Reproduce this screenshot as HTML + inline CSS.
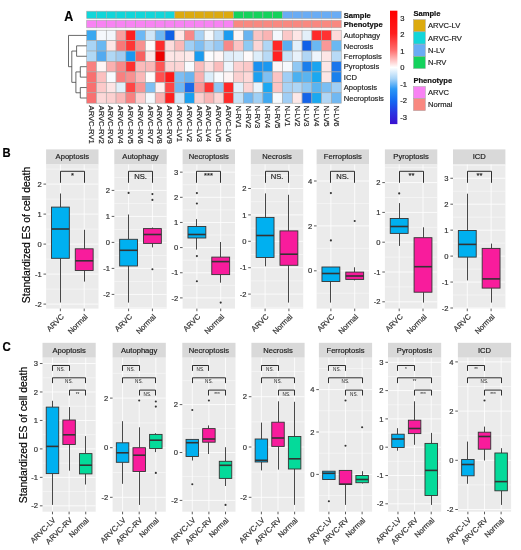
<!DOCTYPE html>
<html><head><meta charset="utf-8"><title>Figure</title>
<style>html,body{margin:0;padding:0;background:#fff;width:521px;height:550px;overflow:hidden}
svg{display:block}text{font-family:"Liberation Sans", Arial, sans-serif}</style></head>
<body><svg width="521" height="550" viewBox="0 0 521 550">
<rect width="521" height="550" fill="#fff"/>
<g stroke="#A8A8A8" stroke-width="0.6">
<rect x="86.7" y="11.2" width="9.79" height="7.4" fill="#12D6D9"/>
<rect x="86.7" y="20.2" width="9.79" height="7.6" fill="#F882F3"/>
<rect x="86.7" y="30.2" width="9.79" height="10.43" fill="#3AA8F0"/>
<rect x="86.7" y="40.63" width="9.79" height="10.43" fill="#A8D4F5"/>
<rect x="86.7" y="51.06" width="9.79" height="10.43" fill="#B0D8F5"/>
<rect x="86.7" y="61.49" width="9.79" height="10.43" fill="#F88080"/>
<rect x="86.7" y="71.92" width="9.79" height="10.43" fill="#F87070"/>
<rect x="86.7" y="82.35" width="9.79" height="10.43" fill="#F87070"/>
<rect x="86.7" y="92.78" width="9.79" height="10.43" fill="#F87070"/>
<rect x="96.49" y="11.2" width="9.79" height="7.4" fill="#12D6D9"/>
<rect x="96.49" y="20.2" width="9.79" height="7.6" fill="#F882F3"/>
<rect x="96.49" y="30.2" width="9.79" height="10.43" fill="#F5F8FC"/>
<rect x="96.49" y="40.63" width="9.79" height="10.43" fill="#6AB8F2"/>
<rect x="96.49" y="51.06" width="9.79" height="10.43" fill="#52AAF0"/>
<rect x="96.49" y="61.49" width="9.79" height="10.43" fill="#FFF5F5"/>
<rect x="96.49" y="71.92" width="9.79" height="10.43" fill="#FBC0C0"/>
<rect x="96.49" y="82.35" width="9.79" height="10.43" fill="#FCCACA"/>
<rect x="96.49" y="92.78" width="9.79" height="10.43" fill="#FCD8D8"/>
<rect x="106.28" y="11.2" width="9.79" height="7.4" fill="#12D6D9"/>
<rect x="106.28" y="20.2" width="9.79" height="7.6" fill="#F882F3"/>
<rect x="106.28" y="30.2" width="9.79" height="10.43" fill="#F2F6FB"/>
<rect x="106.28" y="40.63" width="9.79" height="10.43" fill="#FDE6E6"/>
<rect x="106.28" y="51.06" width="9.79" height="10.43" fill="#B0D8F5"/>
<rect x="106.28" y="61.49" width="9.79" height="10.43" fill="#FAB0B0"/>
<rect x="106.28" y="71.92" width="9.79" height="10.43" fill="#F8FBFE"/>
<rect x="106.28" y="82.35" width="9.79" height="10.43" fill="#FDE4E4"/>
<rect x="106.28" y="92.78" width="9.79" height="10.43" fill="#FCD0D0"/>
<rect x="116.07" y="11.2" width="9.79" height="7.4" fill="#12D6D9"/>
<rect x="116.07" y="20.2" width="9.79" height="7.6" fill="#F882F3"/>
<rect x="116.07" y="30.2" width="9.79" height="10.43" fill="#F9A0A0"/>
<rect x="116.07" y="40.63" width="9.79" height="10.43" fill="#F87878"/>
<rect x="116.07" y="51.06" width="9.79" height="10.43" fill="#A0CCF0"/>
<rect x="116.07" y="61.49" width="9.79" height="10.43" fill="#F88888"/>
<rect x="116.07" y="71.92" width="9.79" height="10.43" fill="#F88080"/>
<rect x="116.07" y="82.35" width="9.79" height="10.43" fill="#E0F0FA"/>
<rect x="116.07" y="92.78" width="9.79" height="10.43" fill="#FAB8B8"/>
<rect x="125.86" y="11.2" width="9.79" height="7.4" fill="#12D6D9"/>
<rect x="125.86" y="20.2" width="9.79" height="7.6" fill="#F882F3"/>
<rect x="125.86" y="30.2" width="9.79" height="10.43" fill="#FF2020"/>
<rect x="125.86" y="40.63" width="9.79" height="10.43" fill="#FF3535"/>
<rect x="125.86" y="51.06" width="9.79" height="10.43" fill="#1A98F0"/>
<rect x="125.86" y="61.49" width="9.79" height="10.43" fill="#FF3030"/>
<rect x="125.86" y="71.92" width="9.79" height="10.43" fill="#F89090"/>
<rect x="125.86" y="82.35" width="9.79" height="10.43" fill="#FF4545"/>
<rect x="125.86" y="92.78" width="9.79" height="10.43" fill="#F88080"/>
<rect x="135.65" y="11.2" width="9.79" height="7.4" fill="#12D6D9"/>
<rect x="135.65" y="20.2" width="9.79" height="7.6" fill="#F882F3"/>
<rect x="135.65" y="30.2" width="9.79" height="10.43" fill="#6CB8F5"/>
<rect x="135.65" y="40.63" width="9.79" height="10.43" fill="#F89090"/>
<rect x="135.65" y="51.06" width="9.79" height="10.43" fill="#F86060"/>
<rect x="135.65" y="61.49" width="9.79" height="10.43" fill="#FBBABA"/>
<rect x="135.65" y="71.92" width="9.79" height="10.43" fill="#FBB8B8"/>
<rect x="135.65" y="82.35" width="9.79" height="10.43" fill="#F89494"/>
<rect x="135.65" y="92.78" width="9.79" height="10.43" fill="#FCCECE"/>
<rect x="145.44" y="11.2" width="9.79" height="7.4" fill="#12D6D9"/>
<rect x="145.44" y="20.2" width="9.79" height="7.6" fill="#F882F3"/>
<rect x="145.44" y="30.2" width="9.79" height="10.43" fill="#CFE6F8"/>
<rect x="145.44" y="40.63" width="9.79" height="10.43" fill="#FFFAFA"/>
<rect x="145.44" y="51.06" width="9.79" height="10.43" fill="#FDE8E8"/>
<rect x="145.44" y="61.49" width="9.79" height="10.43" fill="#FAB8B8"/>
<rect x="145.44" y="71.92" width="9.79" height="10.43" fill="#FFFCFC"/>
<rect x="145.44" y="82.35" width="9.79" height="10.43" fill="#80C0F2"/>
<rect x="145.44" y="92.78" width="9.79" height="10.43" fill="#F5F9FD"/>
<rect x="155.23" y="11.2" width="9.79" height="7.4" fill="#12D6D9"/>
<rect x="155.23" y="20.2" width="9.79" height="7.6" fill="#F882F3"/>
<rect x="155.23" y="30.2" width="9.79" height="10.43" fill="#70B8F2"/>
<rect x="155.23" y="40.63" width="9.79" height="10.43" fill="#FF2A2A"/>
<rect x="155.23" y="51.06" width="9.79" height="10.43" fill="#EE0000"/>
<rect x="155.23" y="61.49" width="9.79" height="10.43" fill="#FF5555"/>
<rect x="155.23" y="71.92" width="9.79" height="10.43" fill="#FF5050"/>
<rect x="155.23" y="82.35" width="9.79" height="10.43" fill="#FFF0F0"/>
<rect x="155.23" y="92.78" width="9.79" height="10.43" fill="#FAB0B0"/>
<rect x="165.02" y="11.2" width="9.79" height="7.4" fill="#12D6D9"/>
<rect x="165.02" y="20.2" width="9.79" height="7.6" fill="#F882F3"/>
<rect x="165.02" y="30.2" width="9.79" height="10.43" fill="#0F5FE6"/>
<rect x="165.02" y="40.63" width="9.79" height="10.43" fill="#FDDCDC"/>
<rect x="165.02" y="51.06" width="9.79" height="10.43" fill="#FDE6E6"/>
<rect x="165.02" y="61.49" width="9.79" height="10.43" fill="#FCD4D4"/>
<rect x="165.02" y="71.92" width="9.79" height="10.43" fill="#FF1A1A"/>
<rect x="165.02" y="82.35" width="9.79" height="10.43" fill="#FF4545"/>
<rect x="165.02" y="92.78" width="9.79" height="10.43" fill="#FF2020"/>
<rect x="174.81" y="11.2" width="9.79" height="7.4" fill="#DCAA0E"/>
<rect x="174.81" y="20.2" width="9.79" height="7.6" fill="#F882F3"/>
<rect x="174.81" y="30.2" width="9.79" height="10.43" fill="#FEE8E8"/>
<rect x="174.81" y="40.63" width="9.79" height="10.43" fill="#FAB8B8"/>
<rect x="174.81" y="51.06" width="9.79" height="10.43" fill="#FDE3E3"/>
<rect x="174.81" y="61.49" width="9.79" height="10.43" fill="#FCD4D4"/>
<rect x="174.81" y="71.92" width="9.79" height="10.43" fill="#7DBDF2"/>
<rect x="174.81" y="82.35" width="9.79" height="10.43" fill="#70B8F2"/>
<rect x="174.81" y="92.78" width="9.79" height="10.43" fill="#D0E6F8"/>
<rect x="184.6" y="11.2" width="9.79" height="7.4" fill="#DCAA0E"/>
<rect x="184.6" y="20.2" width="9.79" height="7.6" fill="#F882F3"/>
<rect x="184.6" y="30.2" width="9.79" height="10.43" fill="#F88888"/>
<rect x="184.6" y="40.63" width="9.79" height="10.43" fill="#A0CFF5"/>
<rect x="184.6" y="51.06" width="9.79" height="10.43" fill="#FDEAEA"/>
<rect x="184.6" y="61.49" width="9.79" height="10.43" fill="#F8FBFE"/>
<rect x="184.6" y="71.92" width="9.79" height="10.43" fill="#6AB4F0"/>
<rect x="184.6" y="82.35" width="9.79" height="10.43" fill="#1A6AE8"/>
<rect x="184.6" y="92.78" width="9.79" height="10.43" fill="#1AA0F0"/>
<rect x="194.39" y="11.2" width="9.79" height="7.4" fill="#DCAA0E"/>
<rect x="194.39" y="20.2" width="9.79" height="7.6" fill="#F882F3"/>
<rect x="194.39" y="30.2" width="9.79" height="10.43" fill="#A8D2F5"/>
<rect x="194.39" y="40.63" width="9.79" height="10.43" fill="#7EBEF3"/>
<rect x="194.39" y="51.06" width="9.79" height="10.43" fill="#1A9CF0"/>
<rect x="194.39" y="61.49" width="9.79" height="10.43" fill="#FBBCBC"/>
<rect x="194.39" y="71.92" width="9.79" height="10.43" fill="#FAB0B0"/>
<rect x="194.39" y="82.35" width="9.79" height="10.43" fill="#F89898"/>
<rect x="194.39" y="92.78" width="9.79" height="10.43" fill="#FCD0D0"/>
<rect x="204.18" y="11.2" width="9.79" height="7.4" fill="#DCAA0E"/>
<rect x="204.18" y="20.2" width="9.79" height="7.6" fill="#F882F3"/>
<rect x="204.18" y="30.2" width="9.79" height="10.43" fill="#F5F9FD"/>
<rect x="204.18" y="40.63" width="9.79" height="10.43" fill="#B0D6F5"/>
<rect x="204.18" y="51.06" width="9.79" height="10.43" fill="#FBFCFE"/>
<rect x="204.18" y="61.49" width="9.79" height="10.43" fill="#FDE0E0"/>
<rect x="204.18" y="71.92" width="9.79" height="10.43" fill="#DCEEFA"/>
<rect x="204.18" y="82.35" width="9.79" height="10.43" fill="#FF3535"/>
<rect x="204.18" y="92.78" width="9.79" height="10.43" fill="#FAB5B5"/>
<rect x="213.97" y="11.2" width="9.79" height="7.4" fill="#DCAA0E"/>
<rect x="213.97" y="20.2" width="9.79" height="7.6" fill="#F882F3"/>
<rect x="213.97" y="30.2" width="9.79" height="10.43" fill="#C0DEF7"/>
<rect x="213.97" y="40.63" width="9.79" height="10.43" fill="#96C8F3"/>
<rect x="213.97" y="51.06" width="9.79" height="10.43" fill="#FEF6F6"/>
<rect x="213.97" y="61.49" width="9.79" height="10.43" fill="#FBBCBC"/>
<rect x="213.97" y="71.92" width="9.79" height="10.43" fill="#F8FBFE"/>
<rect x="213.97" y="82.35" width="9.79" height="10.43" fill="#8EC6F3"/>
<rect x="213.97" y="92.78" width="9.79" height="10.43" fill="#FCD6D6"/>
<rect x="223.76" y="11.2" width="9.79" height="7.4" fill="#DCAA0E"/>
<rect x="223.76" y="20.2" width="9.79" height="7.6" fill="#F882F3"/>
<rect x="223.76" y="30.2" width="9.79" height="10.43" fill="#1C9CF0"/>
<rect x="223.76" y="40.63" width="9.79" height="10.43" fill="#F88888"/>
<rect x="223.76" y="51.06" width="9.79" height="10.43" fill="#E0EEFA"/>
<rect x="223.76" y="61.49" width="9.79" height="10.43" fill="#EEF5FC"/>
<rect x="223.76" y="71.92" width="9.79" height="10.43" fill="#FEF4F4"/>
<rect x="223.76" y="82.35" width="9.79" height="10.43" fill="#FF2828"/>
<rect x="223.76" y="92.78" width="9.79" height="10.43" fill="#FF2A2A"/>
<rect x="233.55" y="11.2" width="9.79" height="7.4" fill="#14D25C"/>
<rect x="233.55" y="20.2" width="9.79" height="7.6" fill="#F98880"/>
<rect x="233.55" y="30.2" width="9.79" height="10.43" fill="#FEF6F6"/>
<rect x="233.55" y="40.63" width="9.79" height="10.43" fill="#FBC4C4"/>
<rect x="233.55" y="51.06" width="9.79" height="10.43" fill="#E3F0FA"/>
<rect x="233.55" y="61.49" width="9.79" height="10.43" fill="#FCD0D0"/>
<rect x="233.55" y="71.92" width="9.79" height="10.43" fill="#FBCFCF"/>
<rect x="233.55" y="82.35" width="9.79" height="10.43" fill="#E3F0FA"/>
<rect x="233.55" y="92.78" width="9.79" height="10.43" fill="#C6E2F7"/>
<rect x="243.34" y="11.2" width="9.79" height="7.4" fill="#14D25C"/>
<rect x="243.34" y="20.2" width="9.79" height="7.6" fill="#F98880"/>
<rect x="243.34" y="30.2" width="9.79" height="10.43" fill="#6AB4F0"/>
<rect x="243.34" y="40.63" width="9.79" height="10.43" fill="#8ECAF3"/>
<rect x="243.34" y="51.06" width="9.79" height="10.43" fill="#FEFAFA"/>
<rect x="243.34" y="61.49" width="9.79" height="10.43" fill="#FBC8C8"/>
<rect x="243.34" y="71.92" width="9.79" height="10.43" fill="#FDD8D8"/>
<rect x="243.34" y="82.35" width="9.79" height="10.43" fill="#FCD4D4"/>
<rect x="243.34" y="92.78" width="9.79" height="10.43" fill="#70B8F2"/>
<rect x="253.13" y="11.2" width="9.79" height="7.4" fill="#14D25C"/>
<rect x="253.13" y="20.2" width="9.79" height="7.6" fill="#F98880"/>
<rect x="253.13" y="30.2" width="9.79" height="10.43" fill="#FBC4C4"/>
<rect x="253.13" y="40.63" width="9.79" height="10.43" fill="#FCD6D6"/>
<rect x="253.13" y="51.06" width="9.79" height="10.43" fill="#DDEEFA"/>
<rect x="253.13" y="61.49" width="9.79" height="10.43" fill="#1A90F0"/>
<rect x="253.13" y="71.92" width="9.79" height="10.43" fill="#1CA0F0"/>
<rect x="253.13" y="82.35" width="9.79" height="10.43" fill="#EAF4FC"/>
<rect x="253.13" y="92.78" width="9.79" height="10.43" fill="#A0D0F5"/>
<rect x="262.92" y="11.2" width="9.79" height="7.4" fill="#14D25C"/>
<rect x="262.92" y="20.2" width="9.79" height="7.6" fill="#F98880"/>
<rect x="262.92" y="30.2" width="9.79" height="10.43" fill="#FAB4B4"/>
<rect x="262.92" y="40.63" width="9.79" height="10.43" fill="#B0D6F5"/>
<rect x="262.92" y="51.06" width="9.79" height="10.43" fill="#B8DAF6"/>
<rect x="262.92" y="61.49" width="9.79" height="10.43" fill="#1C98F0"/>
<rect x="262.92" y="71.92" width="9.79" height="10.43" fill="#7EC0F3"/>
<rect x="262.92" y="82.35" width="9.79" height="10.43" fill="#1AA8F2"/>
<rect x="262.92" y="92.78" width="9.79" height="10.43" fill="#3EA8F0"/>
<rect x="272.71" y="11.2" width="9.79" height="7.4" fill="#14D25C"/>
<rect x="272.71" y="20.2" width="9.79" height="7.6" fill="#F98880"/>
<rect x="272.71" y="30.2" width="9.79" height="10.43" fill="#F3F8FD"/>
<rect x="272.71" y="40.63" width="9.79" height="10.43" fill="#FF2828"/>
<rect x="272.71" y="51.06" width="9.79" height="10.43" fill="#FF2020"/>
<rect x="272.71" y="61.49" width="9.79" height="10.43" fill="#FEF6F6"/>
<rect x="272.71" y="71.92" width="9.79" height="10.43" fill="#FBC4C4"/>
<rect x="272.71" y="82.35" width="9.79" height="10.43" fill="#FBC4C4"/>
<rect x="272.71" y="92.78" width="9.79" height="10.43" fill="#F5F9FD"/>
<rect x="282.5" y="11.2" width="9.79" height="7.4" fill="#6AACF4"/>
<rect x="282.5" y="20.2" width="9.79" height="7.6" fill="#F98880"/>
<rect x="282.5" y="30.2" width="9.79" height="10.43" fill="#FBC8C8"/>
<rect x="282.5" y="40.63" width="9.79" height="10.43" fill="#5AAEF0"/>
<rect x="282.5" y="51.06" width="9.79" height="10.43" fill="#C8E2F7"/>
<rect x="282.5" y="61.49" width="9.79" height="10.43" fill="#F5F9FD"/>
<rect x="282.5" y="71.92" width="9.79" height="10.43" fill="#A0CEF5"/>
<rect x="282.5" y="82.35" width="9.79" height="10.43" fill="#A8D2F5"/>
<rect x="282.5" y="92.78" width="9.79" height="10.43" fill="#A0CEF5"/>
<rect x="292.29" y="11.2" width="9.79" height="7.4" fill="#6AACF4"/>
<rect x="292.29" y="20.2" width="9.79" height="7.6" fill="#F98880"/>
<rect x="292.29" y="30.2" width="9.79" height="10.43" fill="#FDE6E6"/>
<rect x="292.29" y="40.63" width="9.79" height="10.43" fill="#E3F0FA"/>
<rect x="292.29" y="51.06" width="9.79" height="10.43" fill="#E8F2FB"/>
<rect x="292.29" y="61.49" width="9.79" height="10.43" fill="#90C8F3"/>
<rect x="292.29" y="71.92" width="9.79" height="10.43" fill="#4AB0F0"/>
<rect x="292.29" y="82.35" width="9.79" height="10.43" fill="#B0D6F5"/>
<rect x="292.29" y="92.78" width="9.79" height="10.43" fill="#FDE8E8"/>
<rect x="302.08" y="11.2" width="9.79" height="7.4" fill="#6AACF4"/>
<rect x="302.08" y="20.2" width="9.79" height="7.6" fill="#F98880"/>
<rect x="302.08" y="30.2" width="9.79" height="10.43" fill="#E3F0FA"/>
<rect x="302.08" y="40.63" width="9.79" height="10.43" fill="#1060E8"/>
<rect x="302.08" y="51.06" width="9.79" height="10.43" fill="#B0D6F5"/>
<rect x="302.08" y="61.49" width="9.79" height="10.43" fill="#1A7EEC"/>
<rect x="302.08" y="71.92" width="9.79" height="10.43" fill="#5AB4F0"/>
<rect x="302.08" y="82.35" width="9.79" height="10.43" fill="#90C8F3"/>
<rect x="302.08" y="92.78" width="9.79" height="10.43" fill="#1464E8"/>
<rect x="311.87" y="11.2" width="9.79" height="7.4" fill="#6AACF4"/>
<rect x="311.87" y="20.2" width="9.79" height="7.6" fill="#F98880"/>
<rect x="311.87" y="30.2" width="9.79" height="10.43" fill="#FF2A2A"/>
<rect x="311.87" y="40.63" width="9.79" height="10.43" fill="#6AB8F2"/>
<rect x="311.87" y="51.06" width="9.79" height="10.43" fill="#EEF5FC"/>
<rect x="311.87" y="61.49" width="9.79" height="10.43" fill="#1AA4F0"/>
<rect x="311.87" y="71.92" width="9.79" height="10.43" fill="#1AA8F0"/>
<rect x="311.87" y="82.35" width="9.79" height="10.43" fill="#5AB4F0"/>
<rect x="311.87" y="92.78" width="9.79" height="10.43" fill="#1AA8F0"/>
<rect x="321.66" y="11.2" width="9.79" height="7.4" fill="#6AACF4"/>
<rect x="321.66" y="20.2" width="9.79" height="7.6" fill="#F98880"/>
<rect x="321.66" y="30.2" width="9.79" height="10.43" fill="#FF3333"/>
<rect x="321.66" y="40.63" width="9.79" height="10.43" fill="#F89898"/>
<rect x="321.66" y="51.06" width="9.79" height="10.43" fill="#FDE6E6"/>
<rect x="321.66" y="61.49" width="9.79" height="10.43" fill="#FDE6E6"/>
<rect x="321.66" y="71.92" width="9.79" height="10.43" fill="#FDE6E6"/>
<rect x="321.66" y="82.35" width="9.79" height="10.43" fill="#7ABEF3"/>
<rect x="321.66" y="92.78" width="9.79" height="10.43" fill="#B0D6F5"/>
<rect x="331.45" y="11.2" width="9.79" height="7.4" fill="#6AACF4"/>
<rect x="331.45" y="20.2" width="9.79" height="7.6" fill="#F98880"/>
<rect x="331.45" y="30.2" width="9.79" height="10.43" fill="#FDDADA"/>
<rect x="331.45" y="40.63" width="9.79" height="10.43" fill="#6AB8F2"/>
<rect x="331.45" y="51.06" width="9.79" height="10.43" fill="#B8DAF6"/>
<rect x="331.45" y="61.49" width="9.79" height="10.43" fill="#1A76EC"/>
<rect x="331.45" y="71.92" width="9.79" height="10.43" fill="#1A80EC"/>
<rect x="331.45" y="82.35" width="9.79" height="10.43" fill="#A0CEF5"/>
<rect x="331.45" y="92.78" width="9.79" height="10.43" fill="#70B8F2"/>
</g>
<g font-size="7.6" fill="#222" stroke="#222" stroke-width="0.18">
<text transform="translate(91.59,105.6) rotate(90)" x="0" y="0" dy="0.35em">ARVC-RV1</text>
<text transform="translate(101.39,105.6) rotate(90)" x="0" y="0" dy="0.35em">ARVC-RV2</text>
<text transform="translate(111.17,105.6) rotate(90)" x="0" y="0" dy="0.35em">ARVC-RV3</text>
<text transform="translate(120.97,105.6) rotate(90)" x="0" y="0" dy="0.35em">ARVC-RV4</text>
<text transform="translate(130.75,105.6) rotate(90)" x="0" y="0" dy="0.35em">ARVC-RV5</text>
<text transform="translate(140.55,105.6) rotate(90)" x="0" y="0" dy="0.35em">ARVC-RV6</text>
<text transform="translate(150.33,105.6) rotate(90)" x="0" y="0" dy="0.35em">ARVC-RV7</text>
<text transform="translate(160.12,105.6) rotate(90)" x="0" y="0" dy="0.35em">ARVC-RV8</text>
<text transform="translate(169.91,105.6) rotate(90)" x="0" y="0" dy="0.35em">ARVC-RV9</text>
<text transform="translate(179.7,105.6) rotate(90)" x="0" y="0" dy="0.35em">ARVC-LV1</text>
<text transform="translate(189.5,105.6) rotate(90)" x="0" y="0" dy="0.35em">ARVC-LV2</text>
<text transform="translate(199.28,105.6) rotate(90)" x="0" y="0" dy="0.35em">ARVC-LV3</text>
<text transform="translate(209.07,105.6) rotate(90)" x="0" y="0" dy="0.35em">ARVC-LV4</text>
<text transform="translate(218.87,105.6) rotate(90)" x="0" y="0" dy="0.35em">ARVC-LV5</text>
<text transform="translate(228.65,105.6) rotate(90)" x="0" y="0" dy="0.35em">ARVC-LV6</text>
<text transform="translate(238.44,105.6) rotate(90)" x="0" y="0" dy="0.35em">N-RV1</text>
<text transform="translate(248.24,105.6) rotate(90)" x="0" y="0" dy="0.35em">N-RV2</text>
<text transform="translate(258.02,105.6) rotate(90)" x="0" y="0" dy="0.35em">N-RV3</text>
<text transform="translate(267.81,105.6) rotate(90)" x="0" y="0" dy="0.35em">N-RV4</text>
<text transform="translate(277.6,105.6) rotate(90)" x="0" y="0" dy="0.35em">N-RV5</text>
<text transform="translate(287.39,105.6) rotate(90)" x="0" y="0" dy="0.35em">N-LV1</text>
<text transform="translate(297.19,105.6) rotate(90)" x="0" y="0" dy="0.35em">N-LV2</text>
<text transform="translate(306.97,105.6) rotate(90)" x="0" y="0" dy="0.35em">N-LV3</text>
<text transform="translate(316.76,105.6) rotate(90)" x="0" y="0" dy="0.35em">N-LV4</text>
<text transform="translate(326.56,105.6) rotate(90)" x="0" y="0" dy="0.35em">N-LV5</text>
<text transform="translate(336.34,105.6) rotate(90)" x="0" y="0" dy="0.35em">N-LV6</text>
</g>
<g font-size="7.6" fill="#222" stroke="#222" stroke-width="0.18">
<text x="343.8" y="35.41" dy="0.35em">Autophagy</text>
<text x="343.8" y="45.84" dy="0.35em">Necrosis</text>
<text x="343.8" y="56.27" dy="0.35em">Ferroptosis</text>
<text x="343.8" y="66.7" dy="0.35em">Pyroptosis</text>
<text x="343.8" y="77.14" dy="0.35em">ICD</text>
<text x="343.8" y="87.56" dy="0.35em">Apoptosis</text>
<text x="343.8" y="98" dy="0.35em">Necroptosis</text>
<text x="343.8" y="14.9" dy="0.35em" font-weight="bold" fill="#111" stroke="#111" stroke-width="0.18">Sample</text>
<text x="343.8" y="24" dy="0.35em" font-weight="bold" fill="#111" stroke="#111" stroke-width="0.18">Phenotype</text>
</g>
<path d="M86.7 45.84H76.6V56.27H86.7 M86.7 66.7H80.3V77.14H86.7 M86.7 87.56H80.3V98H86.7 M80.3 71.92H75.9V92.78H80.3 M76.6 51.06H71.8V82.35H75.9 M86.7 35.41H68.5V66.7H71.8" fill="none" stroke="#444" stroke-width="0.8"/>
<text transform="translate(64.3,20.6) scale(0.89,1)" font-size="14" font-weight="bold" fill="#000" stroke="#000" stroke-width="0.18">A</text>
<defs><linearGradient id="cb" x1="0" y1="0" x2="0" y2="1"><stop offset="0" stop-color="#FF0000"/><stop offset="0.2" stop-color="#FF1C1C"/><stop offset="0.35" stop-color="#FF7070"/><stop offset="0.5" stop-color="#FFFFFF"/><stop offset="0.6" stop-color="#A8D4F7"/><stop offset="0.69" stop-color="#2A98F6"/><stop offset="0.8" stop-color="#1466F2"/><stop offset="0.9" stop-color="#2A34E2"/><stop offset="1" stop-color="#3A10D0"/></linearGradient></defs>
<rect x="390" y="10.7" width="7.4" height="113.4" fill="url(#cb)"/>
<g font-size="7.6" fill="#222" stroke="#222" stroke-width="0.18">
<text x="400.3" y="17.9" dy="0.35em">3</text>
<text x="400.3" y="34.45" dy="0.35em">2</text>
<text x="400.3" y="51" dy="0.35em">1</text>
<text x="400.3" y="67.55" dy="0.35em">0</text>
<text x="400.3" y="84.1" dy="0.35em">-1</text>
<text x="400.3" y="100.65" dy="0.35em">-2</text>
<text x="400.3" y="117.2" dy="0.35em">-3</text>
</g>
<g font-size="7.6" fill="#222" stroke="#222" stroke-width="0.18">
<text x="413.4" y="16.2" font-weight="bold" fill="#111" stroke="#111" stroke-width="0.18">Sample</text>
<rect x="413.4" y="19.6" width="12" height="12.25" fill="#DCAA0E" stroke="#A8A8A8" stroke-width="0.5"/>
<text x="428" y="25.7" dy="0.35em">ARVC-LV</text>
<rect x="413.4" y="31.85" width="12" height="12.25" fill="#12D6D9" stroke="#A8A8A8" stroke-width="0.5"/>
<text x="428" y="37.95" dy="0.35em">ARVC-RV</text>
<rect x="413.4" y="44.1" width="12" height="12.25" fill="#6AACF4" stroke="#A8A8A8" stroke-width="0.5"/>
<text x="428" y="50.2" dy="0.35em">N-LV</text>
<rect x="413.4" y="56.35" width="12" height="12.25" fill="#14D25C" stroke="#A8A8A8" stroke-width="0.5"/>
<text x="428" y="62.45" dy="0.35em">N-RV</text>
<text x="413.4" y="83.4" font-weight="bold" fill="#111" stroke="#111" stroke-width="0.18">Phenotype</text>
<rect x="413.4" y="86.5" width="12" height="12.1" fill="#F882F3" stroke="#A8A8A8" stroke-width="0.5"/>
<text x="428" y="92.55" dy="0.35em">ARVC</text>
<rect x="413.4" y="98.6" width="12" height="12.1" fill="#F98880" stroke="#A8A8A8" stroke-width="0.5"/>
<text x="428" y="104.65" dy="0.35em">Normal</text>
</g>
<rect x="46.1" y="149.4" width="52.4" height="15.1" fill="#D9D9D9"/>
<text x="72.3" y="159.2" font-size="7.6" fill="#1A1A1A" text-anchor="middle" stroke="#1A1A1A" stroke-width="0.18">Apoptosis</text>
<rect x="46.1" y="164.5" width="52.4" height="144.1" fill="#EBEBEB"/>
<line x1="46.1" x2="98.5" y1="289.1" y2="289.1" stroke="#fff" stroke-width="0.45"/><line x1="46.1" x2="98.5" y1="259.1" y2="259.1" stroke="#fff" stroke-width="0.45"/><line x1="46.1" x2="98.5" y1="229.1" y2="229.1" stroke="#fff" stroke-width="0.45"/><line x1="46.1" x2="98.5" y1="199.1" y2="199.1" stroke="#fff" stroke-width="0.45"/><line x1="46.1" x2="98.5" y1="169.1" y2="169.1" stroke="#fff" stroke-width="0.45"/><line x1="46.1" x2="98.5" y1="184.1" y2="184.1" stroke="#fff" stroke-width="0.8"/><line x1="46.1" x2="98.5" y1="214.1" y2="214.1" stroke="#fff" stroke-width="0.8"/><line x1="46.1" x2="98.5" y1="244.1" y2="244.1" stroke="#fff" stroke-width="0.8"/><line x1="46.1" x2="98.5" y1="274.1" y2="274.1" stroke="#fff" stroke-width="0.8"/><line x1="46.1" x2="98.5" y1="304.1" y2="304.1" stroke="#fff" stroke-width="0.8"/><line x1="60.39" x2="60.39" y1="164.5" y2="308.6" stroke="#fff" stroke-width="0.8"/><line x1="84.21" x2="84.21" y1="164.5" y2="308.6" stroke="#fff" stroke-width="0.8"/>
<line x1="43.5" x2="46.1" y1="184.1" y2="184.1" stroke="#333" stroke-width="0.8"/>
<text x="41.7" y="184.1" dy="0.35em" font-size="7.6" fill="#303030" text-anchor="end" stroke="#303030" stroke-width="0.18">2</text>
<line x1="43.5" x2="46.1" y1="214.1" y2="214.1" stroke="#333" stroke-width="0.8"/>
<text x="41.7" y="214.1" dy="0.35em" font-size="7.6" fill="#303030" text-anchor="end" stroke="#303030" stroke-width="0.18">1</text>
<line x1="43.5" x2="46.1" y1="244.1" y2="244.1" stroke="#333" stroke-width="0.8"/>
<text x="41.7" y="244.1" dy="0.35em" font-size="7.6" fill="#303030" text-anchor="end" stroke="#303030" stroke-width="0.18">0</text>
<line x1="43.5" x2="46.1" y1="274.1" y2="274.1" stroke="#333" stroke-width="0.8"/>
<text x="41.7" y="274.1" dy="0.35em" font-size="7.6" fill="#303030" text-anchor="end" stroke="#303030" stroke-width="0.18">-1</text>
<line x1="43.5" x2="46.1" y1="304.1" y2="304.1" stroke="#333" stroke-width="0.8"/>
<text x="41.7" y="304.1" dy="0.35em" font-size="7.6" fill="#303030" text-anchor="end" stroke="#303030" stroke-width="0.18">-2</text>
<line x1="60.39" x2="60.39" y1="308.6" y2="311.2" stroke="#333" stroke-width="0.8"/>
<text transform="translate(64.49,317.2) rotate(-45)" font-size="7.6" fill="#303030" text-anchor="end" stroke="#303030" stroke-width="0.18">ARVC</text>
<line x1="84.21" x2="84.21" y1="308.6" y2="311.2" stroke="#333" stroke-width="0.8"/>
<text transform="translate(88.31,317.2) rotate(-45)" font-size="7.6" fill="#303030" text-anchor="end" stroke="#303030" stroke-width="0.18">Normal</text>
<line x1="60.5" x2="60.5" y1="193.5" y2="207.1" stroke="#333" stroke-width="0.9"/><line x1="60.5" x2="60.5" y1="258.3" y2="302.5" stroke="#333" stroke-width="0.9"/><rect x="51.46" y="207.1" width="17.86" height="51.2" fill="#00B0F0" stroke="#333" stroke-width="0.9"/><line x1="51.46" x2="69.32" y1="229" y2="229" stroke="#333" stroke-width="1.6"/>
<line x1="84.5" x2="84.5" y1="229.8" y2="248.8" stroke="#333" stroke-width="0.9"/><line x1="84.5" x2="84.5" y1="270.5" y2="281.6" stroke="#333" stroke-width="0.9"/><rect x="75.28" y="248.8" width="17.86" height="21.7" fill="#F81C9C" stroke="#333" stroke-width="0.9"/><line x1="75.28" x2="93.14" y1="260.8" y2="260.8" stroke="#333" stroke-width="1.6"/>
<path d="M60.5 182.8V171.3H84.5V182.8" fill="none" stroke="#1A1A1A" stroke-width="0.9"/>
<text x="72.5" y="178.1" font-size="7.6" fill="#222" text-anchor="middle" stroke="#222" stroke-width="0.18">*</text>
<rect x="114.3" y="149.4" width="52.4" height="15.1" fill="#D9D9D9"/>
<text x="140.5" y="159.2" font-size="7.6" fill="#1A1A1A" text-anchor="middle" stroke="#1A1A1A" stroke-width="0.18">Autophagy</text>
<rect x="114.3" y="164.5" width="52.4" height="144.1" fill="#EBEBEB"/>
<line x1="114.3" x2="166.7" y1="307.4" y2="307.4" stroke="#fff" stroke-width="0.45"/><line x1="114.3" x2="166.7" y1="281.4" y2="281.4" stroke="#fff" stroke-width="0.45"/><line x1="114.3" x2="166.7" y1="255.4" y2="255.4" stroke="#fff" stroke-width="0.45"/><line x1="114.3" x2="166.7" y1="229.4" y2="229.4" stroke="#fff" stroke-width="0.45"/><line x1="114.3" x2="166.7" y1="203.4" y2="203.4" stroke="#fff" stroke-width="0.45"/><line x1="114.3" x2="166.7" y1="177.4" y2="177.4" stroke="#fff" stroke-width="0.45"/><line x1="114.3" x2="166.7" y1="190.4" y2="190.4" stroke="#fff" stroke-width="0.8"/><line x1="114.3" x2="166.7" y1="216.4" y2="216.4" stroke="#fff" stroke-width="0.8"/><line x1="114.3" x2="166.7" y1="242.4" y2="242.4" stroke="#fff" stroke-width="0.8"/><line x1="114.3" x2="166.7" y1="268.4" y2="268.4" stroke="#fff" stroke-width="0.8"/><line x1="114.3" x2="166.7" y1="294.4" y2="294.4" stroke="#fff" stroke-width="0.8"/><line x1="128.59" x2="128.59" y1="164.5" y2="308.6" stroke="#fff" stroke-width="0.8"/><line x1="152.41" x2="152.41" y1="164.5" y2="308.6" stroke="#fff" stroke-width="0.8"/>
<line x1="111.7" x2="114.3" y1="190.4" y2="190.4" stroke="#333" stroke-width="0.8"/>
<text x="109.9" y="190.4" dy="0.35em" font-size="7.6" fill="#303030" text-anchor="end" stroke="#303030" stroke-width="0.18">2</text>
<line x1="111.7" x2="114.3" y1="216.4" y2="216.4" stroke="#333" stroke-width="0.8"/>
<text x="109.9" y="216.4" dy="0.35em" font-size="7.6" fill="#303030" text-anchor="end" stroke="#303030" stroke-width="0.18">1</text>
<line x1="111.7" x2="114.3" y1="242.4" y2="242.4" stroke="#333" stroke-width="0.8"/>
<text x="109.9" y="242.4" dy="0.35em" font-size="7.6" fill="#303030" text-anchor="end" stroke="#303030" stroke-width="0.18">0</text>
<line x1="111.7" x2="114.3" y1="268.4" y2="268.4" stroke="#333" stroke-width="0.8"/>
<text x="109.9" y="268.4" dy="0.35em" font-size="7.6" fill="#303030" text-anchor="end" stroke="#303030" stroke-width="0.18">-1</text>
<line x1="111.7" x2="114.3" y1="294.4" y2="294.4" stroke="#333" stroke-width="0.8"/>
<text x="109.9" y="294.4" dy="0.35em" font-size="7.6" fill="#303030" text-anchor="end" stroke="#303030" stroke-width="0.18">-2</text>
<line x1="128.59" x2="128.59" y1="308.6" y2="311.2" stroke="#333" stroke-width="0.8"/>
<text transform="translate(132.69,317.2) rotate(-45)" font-size="7.6" fill="#303030" text-anchor="end" stroke="#303030" stroke-width="0.18">ARVC</text>
<line x1="152.41" x2="152.41" y1="308.6" y2="311.2" stroke="#333" stroke-width="0.8"/>
<text transform="translate(156.51,317.2) rotate(-45)" font-size="7.6" fill="#303030" text-anchor="end" stroke="#303030" stroke-width="0.18">Normal</text>
<line x1="128.5" x2="128.5" y1="214.5" y2="239.3" stroke="#333" stroke-width="0.9"/><line x1="128.5" x2="128.5" y1="266" y2="302.6" stroke="#333" stroke-width="0.9"/><rect x="119.66" y="239.3" width="17.86" height="26.7" fill="#00B0F0" stroke="#333" stroke-width="0.9"/><line x1="119.66" x2="137.52" y1="250.3" y2="250.3" stroke="#333" stroke-width="1.6"/><circle cx="128.59" cy="192.9" r="1.05" fill="#333"/>
<line x1="152.5" x2="152.5" y1="227.5" y2="228.6" stroke="#333" stroke-width="0.9"/><line x1="152.5" x2="152.5" y1="243.4" y2="247.4" stroke="#333" stroke-width="0.9"/><rect x="143.48" y="228.6" width="17.86" height="14.8" fill="#F81C9C" stroke="#333" stroke-width="0.9"/><line x1="143.48" x2="161.34" y1="234.5" y2="234.5" stroke="#333" stroke-width="1.6"/><circle cx="152.41" cy="194.1" r="1.05" fill="#333"/><circle cx="152.41" cy="199.9" r="1.05" fill="#333"/><circle cx="152.41" cy="269.2" r="1.05" fill="#333"/>
<path d="M128.5 182.8V171.3H152.5V182.8" fill="none" stroke="#1A1A1A" stroke-width="0.9"/>
<text x="140.5" y="178.8" font-size="7.6" fill="#222" text-anchor="middle" stroke="#222" stroke-width="0.18">NS.</text>
<rect x="182.6" y="149.4" width="52.4" height="15.1" fill="#D9D9D9"/>
<text x="208.8" y="159.2" font-size="7.6" fill="#1A1A1A" text-anchor="middle" stroke="#1A1A1A" stroke-width="0.18">Necroptosis</text>
<rect x="182.6" y="164.5" width="52.4" height="144.1" fill="#EBEBEB"/>
<line x1="182.6" x2="235" y1="285.32" y2="285.32" stroke="#fff" stroke-width="0.45"/><line x1="182.6" x2="235" y1="260.18" y2="260.18" stroke="#fff" stroke-width="0.45"/><line x1="182.6" x2="235" y1="235.03" y2="235.03" stroke="#fff" stroke-width="0.45"/><line x1="182.6" x2="235" y1="209.88" y2="209.88" stroke="#fff" stroke-width="0.45"/><line x1="182.6" x2="235" y1="184.72" y2="184.72" stroke="#fff" stroke-width="0.45"/><line x1="182.6" x2="235" y1="172.15" y2="172.15" stroke="#fff" stroke-width="0.8"/><line x1="182.6" x2="235" y1="197.3" y2="197.3" stroke="#fff" stroke-width="0.8"/><line x1="182.6" x2="235" y1="222.45" y2="222.45" stroke="#fff" stroke-width="0.8"/><line x1="182.6" x2="235" y1="247.6" y2="247.6" stroke="#fff" stroke-width="0.8"/><line x1="182.6" x2="235" y1="272.75" y2="272.75" stroke="#fff" stroke-width="0.8"/><line x1="182.6" x2="235" y1="297.9" y2="297.9" stroke="#fff" stroke-width="0.8"/><line x1="196.89" x2="196.89" y1="164.5" y2="308.6" stroke="#fff" stroke-width="0.8"/><line x1="220.71" x2="220.71" y1="164.5" y2="308.6" stroke="#fff" stroke-width="0.8"/>
<line x1="180" x2="182.6" y1="172.15" y2="172.15" stroke="#333" stroke-width="0.8"/>
<text x="178.2" y="172.15" dy="0.35em" font-size="7.6" fill="#303030" text-anchor="end" stroke="#303030" stroke-width="0.18">3</text>
<line x1="180" x2="182.6" y1="197.3" y2="197.3" stroke="#333" stroke-width="0.8"/>
<text x="178.2" y="197.3" dy="0.35em" font-size="7.6" fill="#303030" text-anchor="end" stroke="#303030" stroke-width="0.18">2</text>
<line x1="180" x2="182.6" y1="222.45" y2="222.45" stroke="#333" stroke-width="0.8"/>
<text x="178.2" y="222.45" dy="0.35em" font-size="7.6" fill="#303030" text-anchor="end" stroke="#303030" stroke-width="0.18">1</text>
<line x1="180" x2="182.6" y1="247.6" y2="247.6" stroke="#333" stroke-width="0.8"/>
<text x="178.2" y="247.6" dy="0.35em" font-size="7.6" fill="#303030" text-anchor="end" stroke="#303030" stroke-width="0.18">0</text>
<line x1="180" x2="182.6" y1="272.75" y2="272.75" stroke="#333" stroke-width="0.8"/>
<text x="178.2" y="272.75" dy="0.35em" font-size="7.6" fill="#303030" text-anchor="end" stroke="#303030" stroke-width="0.18">-1</text>
<line x1="180" x2="182.6" y1="297.9" y2="297.9" stroke="#333" stroke-width="0.8"/>
<text x="178.2" y="297.9" dy="0.35em" font-size="7.6" fill="#303030" text-anchor="end" stroke="#303030" stroke-width="0.18">-2</text>
<line x1="196.89" x2="196.89" y1="308.6" y2="311.2" stroke="#333" stroke-width="0.8"/>
<text transform="translate(200.99,317.2) rotate(-45)" font-size="7.6" fill="#303030" text-anchor="end" stroke="#303030" stroke-width="0.18">ARVC</text>
<line x1="220.71" x2="220.71" y1="308.6" y2="311.2" stroke="#333" stroke-width="0.8"/>
<text transform="translate(224.81,317.2) rotate(-45)" font-size="7.6" fill="#303030" text-anchor="end" stroke="#303030" stroke-width="0.18">Normal</text>
<line x1="196.5" x2="196.5" y1="219.1" y2="226.5" stroke="#333" stroke-width="0.9"/><line x1="196.5" x2="196.5" y1="238" y2="249.5" stroke="#333" stroke-width="0.9"/><rect x="187.96" y="226.5" width="17.86" height="11.5" fill="#00B0F0" stroke="#333" stroke-width="0.9"/><line x1="187.96" x2="205.82" y1="234.5" y2="234.5" stroke="#333" stroke-width="1.6"/><circle cx="196.89" cy="193.1" r="1.05" fill="#333"/><circle cx="196.89" cy="203.5" r="1.05" fill="#333"/><circle cx="196.89" cy="256.1" r="1.05" fill="#333"/><circle cx="196.89" cy="281.3" r="1.05" fill="#333"/>
<line x1="220.5" x2="220.5" y1="242" y2="257.1" stroke="#333" stroke-width="0.9"/><line x1="220.5" x2="220.5" y1="274.6" y2="282.7" stroke="#333" stroke-width="0.9"/><rect x="211.78" y="257.1" width="17.86" height="17.5" fill="#F81C9C" stroke="#333" stroke-width="0.9"/><line x1="211.78" x2="229.64" y1="261.6" y2="261.6" stroke="#333" stroke-width="1.6"/><circle cx="220.71" cy="302.6" r="1.05" fill="#333"/>
<path d="M196.5 182.8V171.3H220.5V182.8" fill="none" stroke="#1A1A1A" stroke-width="0.9"/>
<text x="208.5" y="178.1" font-size="7.6" fill="#222" text-anchor="middle" stroke="#222" stroke-width="0.18">***</text>
<rect x="250.8" y="149.4" width="52.4" height="15.1" fill="#D9D9D9"/>
<text x="277" y="159.2" font-size="7.6" fill="#1A1A1A" text-anchor="middle" stroke="#1A1A1A" stroke-width="0.18">Necrosis</text>
<rect x="250.8" y="164.5" width="52.4" height="144.1" fill="#EBEBEB"/>
<line x1="250.8" x2="303.2" y1="307.3" y2="307.3" stroke="#fff" stroke-width="0.45"/><line x1="250.8" x2="303.2" y1="280.9" y2="280.9" stroke="#fff" stroke-width="0.45"/><line x1="250.8" x2="303.2" y1="254.5" y2="254.5" stroke="#fff" stroke-width="0.45"/><line x1="250.8" x2="303.2" y1="228.1" y2="228.1" stroke="#fff" stroke-width="0.45"/><line x1="250.8" x2="303.2" y1="201.7" y2="201.7" stroke="#fff" stroke-width="0.45"/><line x1="250.8" x2="303.2" y1="175.3" y2="175.3" stroke="#fff" stroke-width="0.45"/><line x1="250.8" x2="303.2" y1="188.5" y2="188.5" stroke="#fff" stroke-width="0.8"/><line x1="250.8" x2="303.2" y1="214.9" y2="214.9" stroke="#fff" stroke-width="0.8"/><line x1="250.8" x2="303.2" y1="241.3" y2="241.3" stroke="#fff" stroke-width="0.8"/><line x1="250.8" x2="303.2" y1="267.7" y2="267.7" stroke="#fff" stroke-width="0.8"/><line x1="250.8" x2="303.2" y1="294.1" y2="294.1" stroke="#fff" stroke-width="0.8"/><line x1="265.09" x2="265.09" y1="164.5" y2="308.6" stroke="#fff" stroke-width="0.8"/><line x1="288.91" x2="288.91" y1="164.5" y2="308.6" stroke="#fff" stroke-width="0.8"/>
<line x1="248.2" x2="250.8" y1="188.5" y2="188.5" stroke="#333" stroke-width="0.8"/>
<text x="246.4" y="188.5" dy="0.35em" font-size="7.6" fill="#303030" text-anchor="end" stroke="#303030" stroke-width="0.18">2</text>
<line x1="248.2" x2="250.8" y1="214.9" y2="214.9" stroke="#333" stroke-width="0.8"/>
<text x="246.4" y="214.9" dy="0.35em" font-size="7.6" fill="#303030" text-anchor="end" stroke="#303030" stroke-width="0.18">1</text>
<line x1="248.2" x2="250.8" y1="241.3" y2="241.3" stroke="#333" stroke-width="0.8"/>
<text x="246.4" y="241.3" dy="0.35em" font-size="7.6" fill="#303030" text-anchor="end" stroke="#303030" stroke-width="0.18">0</text>
<line x1="248.2" x2="250.8" y1="267.7" y2="267.7" stroke="#333" stroke-width="0.8"/>
<text x="246.4" y="267.7" dy="0.35em" font-size="7.6" fill="#303030" text-anchor="end" stroke="#303030" stroke-width="0.18">-1</text>
<line x1="248.2" x2="250.8" y1="294.1" y2="294.1" stroke="#333" stroke-width="0.8"/>
<text x="246.4" y="294.1" dy="0.35em" font-size="7.6" fill="#303030" text-anchor="end" stroke="#303030" stroke-width="0.18">-2</text>
<line x1="265.09" x2="265.09" y1="308.6" y2="311.2" stroke="#333" stroke-width="0.8"/>
<text transform="translate(269.19,317.2) rotate(-45)" font-size="7.6" fill="#303030" text-anchor="end" stroke="#303030" stroke-width="0.18">ARVC</text>
<line x1="288.91" x2="288.91" y1="308.6" y2="311.2" stroke="#333" stroke-width="0.8"/>
<text transform="translate(293.01,317.2) rotate(-45)" font-size="7.6" fill="#303030" text-anchor="end" stroke="#303030" stroke-width="0.18">Normal</text>
<line x1="265.5" x2="265.5" y1="193.4" y2="217.4" stroke="#333" stroke-width="0.9"/><line x1="265.5" x2="265.5" y1="257.5" y2="266.3" stroke="#333" stroke-width="0.9"/><rect x="256.16" y="217.4" width="17.86" height="40.1" fill="#00B0F0" stroke="#333" stroke-width="0.9"/><line x1="256.16" x2="274.02" y1="235.5" y2="235.5" stroke="#333" stroke-width="1.6"/>
<line x1="288.5" x2="288.5" y1="194.8" y2="230.9" stroke="#333" stroke-width="0.9"/><line x1="288.5" x2="288.5" y1="265.3" y2="302.6" stroke="#333" stroke-width="0.9"/><rect x="279.98" y="230.9" width="17.86" height="34.4" fill="#F81C9C" stroke="#333" stroke-width="0.9"/><line x1="279.98" x2="297.84" y1="254.2" y2="254.2" stroke="#333" stroke-width="1.6"/>
<path d="M265.5 182.8V171.3H288.5V182.8" fill="none" stroke="#1A1A1A" stroke-width="0.9"/>
<text x="277" y="178.8" font-size="7.6" fill="#222" text-anchor="middle" stroke="#222" stroke-width="0.18">NS.</text>
<rect x="316.6" y="149.4" width="52.4" height="15.1" fill="#D9D9D9"/>
<text x="342.8" y="159.2" font-size="7.6" fill="#1A1A1A" text-anchor="middle" stroke="#1A1A1A" stroke-width="0.18">Ferroptosis</text>
<rect x="316.6" y="164.5" width="52.4" height="144.1" fill="#EBEBEB"/>
<line x1="316.6" x2="369" y1="293.25" y2="293.25" stroke="#fff" stroke-width="0.45"/><line x1="316.6" x2="369" y1="248.35" y2="248.35" stroke="#fff" stroke-width="0.45"/><line x1="316.6" x2="369" y1="203.45" y2="203.45" stroke="#fff" stroke-width="0.45"/><line x1="316.6" x2="369" y1="181" y2="181" stroke="#fff" stroke-width="0.8"/><line x1="316.6" x2="369" y1="225.9" y2="225.9" stroke="#fff" stroke-width="0.8"/><line x1="316.6" x2="369" y1="270.8" y2="270.8" stroke="#fff" stroke-width="0.8"/><line x1="330.89" x2="330.89" y1="164.5" y2="308.6" stroke="#fff" stroke-width="0.8"/><line x1="354.71" x2="354.71" y1="164.5" y2="308.6" stroke="#fff" stroke-width="0.8"/>
<line x1="314" x2="316.6" y1="181" y2="181" stroke="#333" stroke-width="0.8"/>
<text x="312.2" y="181" dy="0.35em" font-size="7.6" fill="#303030" text-anchor="end" stroke="#303030" stroke-width="0.18">4</text>
<line x1="314" x2="316.6" y1="225.9" y2="225.9" stroke="#333" stroke-width="0.8"/>
<text x="312.2" y="225.9" dy="0.35em" font-size="7.6" fill="#303030" text-anchor="end" stroke="#303030" stroke-width="0.18">2</text>
<line x1="314" x2="316.6" y1="270.8" y2="270.8" stroke="#333" stroke-width="0.8"/>
<text x="312.2" y="270.8" dy="0.35em" font-size="7.6" fill="#303030" text-anchor="end" stroke="#303030" stroke-width="0.18">0</text>
<line x1="330.89" x2="330.89" y1="308.6" y2="311.2" stroke="#333" stroke-width="0.8"/>
<text transform="translate(334.99,317.2) rotate(-45)" font-size="7.6" fill="#303030" text-anchor="end" stroke="#303030" stroke-width="0.18">ARVC</text>
<line x1="354.71" x2="354.71" y1="308.6" y2="311.2" stroke="#333" stroke-width="0.8"/>
<text transform="translate(358.81,317.2) rotate(-45)" font-size="7.6" fill="#303030" text-anchor="end" stroke="#303030" stroke-width="0.18">Normal</text>
<line x1="330.5" x2="330.5" y1="281.5" y2="302.6" stroke="#333" stroke-width="0.9"/><rect x="321.96" y="267" width="17.86" height="14.5" fill="#00B0F0" stroke="#333" stroke-width="0.9"/><line x1="321.96" x2="339.82" y1="273.5" y2="273.5" stroke="#333" stroke-width="1.6"/><circle cx="330.89" cy="193.1" r="1.05" fill="#333"/><circle cx="330.89" cy="240.4" r="1.05" fill="#333"/>
<line x1="354.5" x2="354.5" y1="267.3" y2="272.1" stroke="#333" stroke-width="0.9"/><line x1="354.5" x2="354.5" y1="279.4" y2="280.4" stroke="#333" stroke-width="0.9"/><rect x="345.78" y="272.1" width="17.86" height="7.3" fill="#F81C9C" stroke="#333" stroke-width="0.9"/><line x1="345.78" x2="363.64" y1="276" y2="276" stroke="#333" stroke-width="1.6"/><circle cx="354.71" cy="221" r="1.05" fill="#333"/>
<path d="M330.5 182.8V171.3H354.5V182.8" fill="none" stroke="#1A1A1A" stroke-width="0.9"/>
<text x="342.5" y="178.8" font-size="7.6" fill="#222" text-anchor="middle" stroke="#222" stroke-width="0.18">NS.</text>
<rect x="384.9" y="149.4" width="52.4" height="15.1" fill="#D9D9D9"/>
<text x="411.1" y="159.2" font-size="7.6" fill="#1A1A1A" text-anchor="middle" stroke="#1A1A1A" stroke-width="0.18">Pyroptosis</text>
<rect x="384.9" y="164.5" width="52.4" height="144.1" fill="#EBEBEB"/>
<line x1="384.9" x2="437.3" y1="286.9" y2="286.9" stroke="#fff" stroke-width="0.45"/><line x1="384.9" x2="437.3" y1="257.1" y2="257.1" stroke="#fff" stroke-width="0.45"/><line x1="384.9" x2="437.3" y1="227.3" y2="227.3" stroke="#fff" stroke-width="0.45"/><line x1="384.9" x2="437.3" y1="197.5" y2="197.5" stroke="#fff" stroke-width="0.45"/><line x1="384.9" x2="437.3" y1="167.7" y2="167.7" stroke="#fff" stroke-width="0.45"/><line x1="384.9" x2="437.3" y1="182.6" y2="182.6" stroke="#fff" stroke-width="0.8"/><line x1="384.9" x2="437.3" y1="212.4" y2="212.4" stroke="#fff" stroke-width="0.8"/><line x1="384.9" x2="437.3" y1="242.2" y2="242.2" stroke="#fff" stroke-width="0.8"/><line x1="384.9" x2="437.3" y1="272" y2="272" stroke="#fff" stroke-width="0.8"/><line x1="384.9" x2="437.3" y1="301.8" y2="301.8" stroke="#fff" stroke-width="0.8"/><line x1="399.19" x2="399.19" y1="164.5" y2="308.6" stroke="#fff" stroke-width="0.8"/><line x1="423.01" x2="423.01" y1="164.5" y2="308.6" stroke="#fff" stroke-width="0.8"/>
<line x1="382.3" x2="384.9" y1="182.6" y2="182.6" stroke="#333" stroke-width="0.8"/>
<text x="380.5" y="182.6" dy="0.35em" font-size="7.6" fill="#303030" text-anchor="end" stroke="#303030" stroke-width="0.18">2</text>
<line x1="382.3" x2="384.9" y1="212.4" y2="212.4" stroke="#333" stroke-width="0.8"/>
<text x="380.5" y="212.4" dy="0.35em" font-size="7.6" fill="#303030" text-anchor="end" stroke="#303030" stroke-width="0.18">1</text>
<line x1="382.3" x2="384.9" y1="242.2" y2="242.2" stroke="#333" stroke-width="0.8"/>
<text x="380.5" y="242.2" dy="0.35em" font-size="7.6" fill="#303030" text-anchor="end" stroke="#303030" stroke-width="0.18">0</text>
<line x1="382.3" x2="384.9" y1="272" y2="272" stroke="#333" stroke-width="0.8"/>
<text x="380.5" y="272" dy="0.35em" font-size="7.6" fill="#303030" text-anchor="end" stroke="#303030" stroke-width="0.18">-1</text>
<line x1="382.3" x2="384.9" y1="301.8" y2="301.8" stroke="#333" stroke-width="0.8"/>
<text x="380.5" y="301.8" dy="0.35em" font-size="7.6" fill="#303030" text-anchor="end" stroke="#303030" stroke-width="0.18">-2</text>
<line x1="399.19" x2="399.19" y1="308.6" y2="311.2" stroke="#333" stroke-width="0.8"/>
<text transform="translate(403.29,317.2) rotate(-45)" font-size="7.6" fill="#303030" text-anchor="end" stroke="#303030" stroke-width="0.18">ARVC</text>
<line x1="423.01" x2="423.01" y1="308.6" y2="311.2" stroke="#333" stroke-width="0.8"/>
<text transform="translate(427.11,317.2) rotate(-45)" font-size="7.6" fill="#303030" text-anchor="end" stroke="#303030" stroke-width="0.18">Normal</text>
<line x1="399.5" x2="399.5" y1="203.1" y2="218.5" stroke="#333" stroke-width="0.9"/><line x1="399.5" x2="399.5" y1="233.4" y2="245.9" stroke="#333" stroke-width="0.9"/><rect x="390.26" y="218.5" width="17.86" height="14.9" fill="#00B0F0" stroke="#333" stroke-width="0.9"/><line x1="390.26" x2="408.12" y1="226.5" y2="226.5" stroke="#333" stroke-width="1.6"/><circle cx="399.19" cy="193.4" r="1.05" fill="#333"/>
<line x1="423.5" x2="423.5" y1="227.3" y2="237.7" stroke="#333" stroke-width="0.9"/><line x1="423.5" x2="423.5" y1="292.2" y2="302.6" stroke="#333" stroke-width="0.9"/><rect x="414.08" y="237.7" width="17.86" height="54.5" fill="#F81C9C" stroke="#333" stroke-width="0.9"/><line x1="414.08" x2="431.94" y1="266.7" y2="266.7" stroke="#333" stroke-width="1.6"/>
<path d="M399.5 182.8V171.3H423.5V182.8" fill="none" stroke="#1A1A1A" stroke-width="0.9"/>
<text x="411.5" y="178.1" font-size="7.6" fill="#222" text-anchor="middle" stroke="#222" stroke-width="0.18">**</text>
<rect x="453" y="149.4" width="52.4" height="15.1" fill="#D9D9D9"/>
<text x="479.2" y="159.2" font-size="7.6" fill="#1A1A1A" text-anchor="middle" stroke="#1A1A1A" stroke-width="0.18">ICD</text>
<rect x="453" y="164.5" width="52.4" height="144.1" fill="#EBEBEB"/>
<line x1="453" x2="505.4" y1="295.03" y2="295.03" stroke="#fff" stroke-width="0.45"/><line x1="453" x2="505.4" y1="269.08" y2="269.08" stroke="#fff" stroke-width="0.45"/><line x1="453" x2="505.4" y1="243.13" y2="243.13" stroke="#fff" stroke-width="0.45"/><line x1="453" x2="505.4" y1="217.18" y2="217.18" stroke="#fff" stroke-width="0.45"/><line x1="453" x2="505.4" y1="191.23" y2="191.23" stroke="#fff" stroke-width="0.45"/><line x1="453" x2="505.4" y1="165.28" y2="165.28" stroke="#fff" stroke-width="0.45"/><line x1="453" x2="505.4" y1="178.25" y2="178.25" stroke="#fff" stroke-width="0.8"/><line x1="453" x2="505.4" y1="204.2" y2="204.2" stroke="#fff" stroke-width="0.8"/><line x1="453" x2="505.4" y1="230.15" y2="230.15" stroke="#fff" stroke-width="0.8"/><line x1="453" x2="505.4" y1="256.1" y2="256.1" stroke="#fff" stroke-width="0.8"/><line x1="453" x2="505.4" y1="282.05" y2="282.05" stroke="#fff" stroke-width="0.8"/><line x1="453" x2="505.4" y1="308" y2="308" stroke="#fff" stroke-width="0.8"/><line x1="467.29" x2="467.29" y1="164.5" y2="308.6" stroke="#fff" stroke-width="0.8"/><line x1="491.11" x2="491.11" y1="164.5" y2="308.6" stroke="#fff" stroke-width="0.8"/>
<line x1="450.4" x2="453" y1="178.25" y2="178.25" stroke="#333" stroke-width="0.8"/>
<text x="448.6" y="178.25" dy="0.35em" font-size="7.6" fill="#303030" text-anchor="end" stroke="#303030" stroke-width="0.18">3</text>
<line x1="450.4" x2="453" y1="204.2" y2="204.2" stroke="#333" stroke-width="0.8"/>
<text x="448.6" y="204.2" dy="0.35em" font-size="7.6" fill="#303030" text-anchor="end" stroke="#303030" stroke-width="0.18">2</text>
<line x1="450.4" x2="453" y1="230.15" y2="230.15" stroke="#333" stroke-width="0.8"/>
<text x="448.6" y="230.15" dy="0.35em" font-size="7.6" fill="#303030" text-anchor="end" stroke="#303030" stroke-width="0.18">1</text>
<line x1="450.4" x2="453" y1="256.1" y2="256.1" stroke="#333" stroke-width="0.8"/>
<text x="448.6" y="256.1" dy="0.35em" font-size="7.6" fill="#303030" text-anchor="end" stroke="#303030" stroke-width="0.18">0</text>
<line x1="450.4" x2="453" y1="282.05" y2="282.05" stroke="#333" stroke-width="0.8"/>
<text x="448.6" y="282.05" dy="0.35em" font-size="7.6" fill="#303030" text-anchor="end" stroke="#303030" stroke-width="0.18">-1</text>
<line x1="450.4" x2="453" y1="308" y2="308" stroke="#333" stroke-width="0.8"/>
<text x="448.6" y="308" dy="0.35em" font-size="7.6" fill="#303030" text-anchor="end" stroke="#303030" stroke-width="0.18">-2</text>
<line x1="467.29" x2="467.29" y1="308.6" y2="311.2" stroke="#333" stroke-width="0.8"/>
<text transform="translate(471.39,317.2) rotate(-45)" font-size="7.6" fill="#303030" text-anchor="end" stroke="#303030" stroke-width="0.18">ARVC</text>
<line x1="491.11" x2="491.11" y1="308.6" y2="311.2" stroke="#333" stroke-width="0.8"/>
<text transform="translate(495.21,317.2) rotate(-45)" font-size="7.6" fill="#303030" text-anchor="end" stroke="#303030" stroke-width="0.18">Normal</text>
<line x1="467.5" x2="467.5" y1="193.7" y2="230.5" stroke="#333" stroke-width="0.9"/><line x1="467.5" x2="467.5" y1="257.1" y2="280.4" stroke="#333" stroke-width="0.9"/><rect x="458.36" y="230.5" width="17.86" height="26.6" fill="#00B0F0" stroke="#333" stroke-width="0.9"/><line x1="458.36" x2="476.22" y1="244.4" y2="244.4" stroke="#333" stroke-width="1.6"/>
<line x1="491.5" x2="491.5" y1="243.6" y2="248.4" stroke="#333" stroke-width="0.9"/><line x1="491.5" x2="491.5" y1="288.1" y2="302.6" stroke="#333" stroke-width="0.9"/><rect x="482.18" y="248.4" width="17.86" height="39.7" fill="#F81C9C" stroke="#333" stroke-width="0.9"/><line x1="482.18" x2="500.04" y1="278.9" y2="278.9" stroke="#333" stroke-width="1.6"/>
<path d="M467.5 182.8V171.3H491.5V182.8" fill="none" stroke="#1A1A1A" stroke-width="0.9"/>
<text x="479.5" y="178.1" font-size="7.6" fill="#222" text-anchor="middle" stroke="#222" stroke-width="0.18">**</text>
<rect x="42.5" y="342.8" width="53.2" height="14.9" fill="#D9D9D9"/>
<text x="69.1" y="352.6" font-size="7.6" fill="#1A1A1A" text-anchor="middle" stroke="#1A1A1A" stroke-width="0.18">Apoptosis</text>
<rect x="42.5" y="357.7" width="53.2" height="154" fill="#EBEBEB"/>
<line x1="42.5" x2="95.7" y1="491.59" y2="491.59" stroke="#fff" stroke-width="0.45"/><line x1="42.5" x2="95.7" y1="463.13" y2="463.13" stroke="#fff" stroke-width="0.45"/><line x1="42.5" x2="95.7" y1="434.67" y2="434.67" stroke="#fff" stroke-width="0.45"/><line x1="42.5" x2="95.7" y1="406.21" y2="406.21" stroke="#fff" stroke-width="0.45"/><line x1="42.5" x2="95.7" y1="377.75" y2="377.75" stroke="#fff" stroke-width="0.45"/><line x1="42.5" x2="95.7" y1="363.52" y2="363.52" stroke="#fff" stroke-width="0.8"/><line x1="42.5" x2="95.7" y1="391.98" y2="391.98" stroke="#fff" stroke-width="0.8"/><line x1="42.5" x2="95.7" y1="420.44" y2="420.44" stroke="#fff" stroke-width="0.8"/><line x1="42.5" x2="95.7" y1="448.9" y2="448.9" stroke="#fff" stroke-width="0.8"/><line x1="42.5" x2="95.7" y1="477.36" y2="477.36" stroke="#fff" stroke-width="0.8"/><line x1="42.5" x2="95.7" y1="505.82" y2="505.82" stroke="#fff" stroke-width="0.8"/><line x1="52.48" x2="52.48" y1="357.7" y2="511.7" stroke="#fff" stroke-width="0.8"/><line x1="69.1" x2="69.1" y1="357.7" y2="511.7" stroke="#fff" stroke-width="0.8"/><line x1="85.72" x2="85.72" y1="357.7" y2="511.7" stroke="#fff" stroke-width="0.8"/>
<line x1="39.9" x2="42.5" y1="363.52" y2="363.52" stroke="#333" stroke-width="0.8"/>
<text x="38.1" y="363.52" dy="0.35em" font-size="7.6" fill="#303030" text-anchor="end" stroke="#303030" stroke-width="0.18">3</text>
<line x1="39.9" x2="42.5" y1="391.98" y2="391.98" stroke="#333" stroke-width="0.8"/>
<text x="38.1" y="391.98" dy="0.35em" font-size="7.6" fill="#303030" text-anchor="end" stroke="#303030" stroke-width="0.18">2</text>
<line x1="39.9" x2="42.5" y1="420.44" y2="420.44" stroke="#333" stroke-width="0.8"/>
<text x="38.1" y="420.44" dy="0.35em" font-size="7.6" fill="#303030" text-anchor="end" stroke="#303030" stroke-width="0.18">1</text>
<line x1="39.9" x2="42.5" y1="448.9" y2="448.9" stroke="#333" stroke-width="0.8"/>
<text x="38.1" y="448.9" dy="0.35em" font-size="7.6" fill="#303030" text-anchor="end" stroke="#303030" stroke-width="0.18">0</text>
<line x1="39.9" x2="42.5" y1="477.36" y2="477.36" stroke="#333" stroke-width="0.8"/>
<text x="38.1" y="477.36" dy="0.35em" font-size="7.6" fill="#303030" text-anchor="end" stroke="#303030" stroke-width="0.18">-1</text>
<line x1="39.9" x2="42.5" y1="505.82" y2="505.82" stroke="#333" stroke-width="0.8"/>
<text x="38.1" y="505.82" dy="0.35em" font-size="7.6" fill="#303030" text-anchor="end" stroke="#303030" stroke-width="0.18">-2</text>
<line x1="52.48" x2="52.48" y1="511.7" y2="514.3" stroke="#333" stroke-width="0.8"/>
<text transform="translate(56.18,520.7) rotate(-45)" font-size="7.6" fill="#303030" text-anchor="end" stroke="#303030" stroke-width="0.18">ARVC-LV</text>
<line x1="69.1" x2="69.1" y1="511.7" y2="514.3" stroke="#333" stroke-width="0.8"/>
<text transform="translate(72.8,520.7) rotate(-45)" font-size="7.6" fill="#303030" text-anchor="end" stroke="#303030" stroke-width="0.18">ARVC-RV</text>
<line x1="85.72" x2="85.72" y1="511.7" y2="514.3" stroke="#333" stroke-width="0.8"/>
<text transform="translate(89.42,520.7) rotate(-45)" font-size="7.6" fill="#303030" text-anchor="end" stroke="#303030" stroke-width="0.18">Normal</text>
<line x1="52.5" x2="52.5" y1="400.8" y2="407.1" stroke="#333" stroke-width="0.9"/><line x1="52.5" x2="52.5" y1="473.6" y2="504.9" stroke="#333" stroke-width="0.9"/><rect x="46.24" y="407.1" width="12.47" height="66.5" fill="#00B0F0" stroke="#333" stroke-width="0.9"/><line x1="46.24" x2="58.71" y1="446.4" y2="446.4" stroke="#333" stroke-width="1.6"/>
<line x1="69.5" x2="69.5" y1="407.1" y2="420" stroke="#333" stroke-width="0.9"/><line x1="69.5" x2="69.5" y1="444.5" y2="470.7" stroke="#333" stroke-width="0.9"/><rect x="62.87" y="420" width="12.47" height="24.5" fill="#F81C9C" stroke="#333" stroke-width="0.9"/><line x1="62.87" x2="75.33" y1="434.8" y2="434.8" stroke="#333" stroke-width="1.6"/>
<line x1="85.5" x2="85.5" y1="436.1" y2="453.6" stroke="#333" stroke-width="0.9"/><line x1="85.5" x2="85.5" y1="473.9" y2="484.5" stroke="#333" stroke-width="0.9"/><rect x="79.49" y="453.6" width="12.47" height="20.3" fill="#04DA9A" stroke="#333" stroke-width="0.9"/><line x1="79.49" x2="91.96" y1="465.2" y2="465.2" stroke="#333" stroke-width="1.6"/>
<path d="M52.5 370.9V365.5H69.5V370.9" fill="none" stroke="#1A1A1A" stroke-width="0.9"/>
<text x="61" y="370.9" font-size="4.7" fill="#222" text-anchor="middle" stroke="none">NS.</text>
<path d="M52.5 383.1V377.8H85.5V383.1" fill="none" stroke="#1A1A1A" stroke-width="0.9"/>
<text x="69" y="383.2" font-size="4.7" fill="#222" text-anchor="middle" stroke="none">NS.</text>
<path d="M69.5 395.5V390.1H85.5V395.5" fill="none" stroke="#1A1A1A" stroke-width="0.9"/>
<text x="77.5" y="395.5" font-size="4.7" fill="#222" text-anchor="middle" stroke="none">**</text>
<rect x="112.6" y="342.8" width="53.2" height="14.9" fill="#D9D9D9"/>
<text x="139.2" y="352.6" font-size="7.6" fill="#1A1A1A" text-anchor="middle" stroke="#1A1A1A" stroke-width="0.18">Autophagy</text>
<rect x="112.6" y="357.7" width="53.2" height="154" fill="#EBEBEB"/>
<line x1="112.6" x2="165.8" y1="472.5" y2="472.5" stroke="#fff" stroke-width="0.45"/><line x1="112.6" x2="165.8" y1="422.9" y2="422.9" stroke="#fff" stroke-width="0.45"/><line x1="112.6" x2="165.8" y1="373.3" y2="373.3" stroke="#fff" stroke-width="0.45"/><line x1="112.6" x2="165.8" y1="398.1" y2="398.1" stroke="#fff" stroke-width="0.8"/><line x1="112.6" x2="165.8" y1="447.7" y2="447.7" stroke="#fff" stroke-width="0.8"/><line x1="112.6" x2="165.8" y1="497.3" y2="497.3" stroke="#fff" stroke-width="0.8"/><line x1="122.57" x2="122.57" y1="357.7" y2="511.7" stroke="#fff" stroke-width="0.8"/><line x1="139.2" x2="139.2" y1="357.7" y2="511.7" stroke="#fff" stroke-width="0.8"/><line x1="155.82" x2="155.82" y1="357.7" y2="511.7" stroke="#fff" stroke-width="0.8"/>
<line x1="110" x2="112.6" y1="398.1" y2="398.1" stroke="#333" stroke-width="0.8"/>
<text x="108.2" y="398.1" dy="0.35em" font-size="7.6" fill="#303030" text-anchor="end" stroke="#303030" stroke-width="0.18">2</text>
<line x1="110" x2="112.6" y1="447.7" y2="447.7" stroke="#333" stroke-width="0.8"/>
<text x="108.2" y="447.7" dy="0.35em" font-size="7.6" fill="#303030" text-anchor="end" stroke="#303030" stroke-width="0.18">0</text>
<line x1="110" x2="112.6" y1="497.3" y2="497.3" stroke="#333" stroke-width="0.8"/>
<text x="108.2" y="497.3" dy="0.35em" font-size="7.6" fill="#303030" text-anchor="end" stroke="#303030" stroke-width="0.18">-2</text>
<line x1="122.57" x2="122.57" y1="511.7" y2="514.3" stroke="#333" stroke-width="0.8"/>
<text transform="translate(126.27,520.7) rotate(-45)" font-size="7.6" fill="#303030" text-anchor="end" stroke="#303030" stroke-width="0.18">ARVC-LV</text>
<line x1="139.2" x2="139.2" y1="511.7" y2="514.3" stroke="#333" stroke-width="0.8"/>
<text transform="translate(142.9,520.7) rotate(-45)" font-size="7.6" fill="#303030" text-anchor="end" stroke="#303030" stroke-width="0.18">ARVC-RV</text>
<line x1="155.82" x2="155.82" y1="511.7" y2="514.3" stroke="#333" stroke-width="0.8"/>
<text transform="translate(159.52,520.7) rotate(-45)" font-size="7.6" fill="#303030" text-anchor="end" stroke="#303030" stroke-width="0.18">Normal</text>
<line x1="122.5" x2="122.5" y1="421.2" y2="442.8" stroke="#333" stroke-width="0.9"/><line x1="122.5" x2="122.5" y1="462.3" y2="483.8" stroke="#333" stroke-width="0.9"/><rect x="116.34" y="442.8" width="12.47" height="19.5" fill="#00B0F0" stroke="#333" stroke-width="0.9"/><line x1="116.34" x2="128.81" y1="452.8" y2="452.8" stroke="#333" stroke-width="1.6"/>
<line x1="139.5" x2="139.5" y1="427.3" y2="447.7" stroke="#333" stroke-width="0.9"/><line x1="139.5" x2="139.5" y1="471.5" y2="504.9" stroke="#333" stroke-width="0.9"/><rect x="132.97" y="447.7" width="12.47" height="23.8" fill="#F81C9C" stroke="#333" stroke-width="0.9"/><line x1="132.97" x2="145.43" y1="455.2" y2="455.2" stroke="#333" stroke-width="1.6"/><circle cx="139.2" cy="400.5" r="1.05" fill="#333"/>
<line x1="155.5" x2="155.5" y1="433.2" y2="434.4" stroke="#333" stroke-width="0.9"/><line x1="155.5" x2="155.5" y1="448.5" y2="452.1" stroke="#333" stroke-width="0.9"/><rect x="149.59" y="434.4" width="12.47" height="14.1" fill="#04DA9A" stroke="#333" stroke-width="0.9"/><line x1="149.59" x2="162.06" y1="440.2" y2="440.2" stroke="#333" stroke-width="1.6"/><circle cx="155.82" cy="401.5" r="1.05" fill="#333"/><circle cx="155.82" cy="406.6" r="1.05" fill="#333"/><circle cx="155.82" cy="472.9" r="1.05" fill="#333"/>
<path d="M122.5 370.9V365.5H139.5V370.9" fill="none" stroke="#1A1A1A" stroke-width="0.9"/>
<text x="131" y="370.9" font-size="4.7" fill="#222" text-anchor="middle" stroke="none">NS.</text>
<path d="M122.5 383.1V377.8H155.5V383.1" fill="none" stroke="#1A1A1A" stroke-width="0.9"/>
<text x="139" y="383.2" font-size="4.7" fill="#222" text-anchor="middle" stroke="none">NS.</text>
<path d="M139.5 395.5V390.1H155.5V395.5" fill="none" stroke="#1A1A1A" stroke-width="0.9"/>
<text x="147.5" y="395.5" font-size="4.7" fill="#222" text-anchor="middle" stroke="none">NS.</text>
<rect x="182.3" y="342.8" width="53.2" height="14.9" fill="#D9D9D9"/>
<text x="208.9" y="352.6" font-size="7.6" fill="#1A1A1A" text-anchor="middle" stroke="#1A1A1A" stroke-width="0.18">Necroptosis</text>
<rect x="182.3" y="357.7" width="53.2" height="154" fill="#EBEBEB"/>
<line x1="182.3" x2="235.5" y1="476.45" y2="476.45" stroke="#fff" stroke-width="0.45"/><line x1="182.3" x2="235.5" y1="428.55" y2="428.55" stroke="#fff" stroke-width="0.45"/><line x1="182.3" x2="235.5" y1="380.65" y2="380.65" stroke="#fff" stroke-width="0.45"/><line x1="182.3" x2="235.5" y1="404.6" y2="404.6" stroke="#fff" stroke-width="0.8"/><line x1="182.3" x2="235.5" y1="452.5" y2="452.5" stroke="#fff" stroke-width="0.8"/><line x1="182.3" x2="235.5" y1="500.4" y2="500.4" stroke="#fff" stroke-width="0.8"/><line x1="192.28" x2="192.28" y1="357.7" y2="511.7" stroke="#fff" stroke-width="0.8"/><line x1="208.9" x2="208.9" y1="357.7" y2="511.7" stroke="#fff" stroke-width="0.8"/><line x1="225.53" x2="225.53" y1="357.7" y2="511.7" stroke="#fff" stroke-width="0.8"/>
<line x1="179.7" x2="182.3" y1="404.6" y2="404.6" stroke="#333" stroke-width="0.8"/>
<text x="177.9" y="404.6" dy="0.35em" font-size="7.6" fill="#303030" text-anchor="end" stroke="#303030" stroke-width="0.18">2</text>
<line x1="179.7" x2="182.3" y1="452.5" y2="452.5" stroke="#333" stroke-width="0.8"/>
<text x="177.9" y="452.5" dy="0.35em" font-size="7.6" fill="#303030" text-anchor="end" stroke="#303030" stroke-width="0.18">0</text>
<line x1="179.7" x2="182.3" y1="500.4" y2="500.4" stroke="#333" stroke-width="0.8"/>
<text x="177.9" y="500.4" dy="0.35em" font-size="7.6" fill="#303030" text-anchor="end" stroke="#303030" stroke-width="0.18">-2</text>
<line x1="192.28" x2="192.28" y1="511.7" y2="514.3" stroke="#333" stroke-width="0.8"/>
<text transform="translate(195.97,520.7) rotate(-45)" font-size="7.6" fill="#303030" text-anchor="end" stroke="#303030" stroke-width="0.18">ARVC-LV</text>
<line x1="208.9" x2="208.9" y1="511.7" y2="514.3" stroke="#333" stroke-width="0.8"/>
<text transform="translate(212.6,520.7) rotate(-45)" font-size="7.6" fill="#303030" text-anchor="end" stroke="#303030" stroke-width="0.18">ARVC-RV</text>
<line x1="225.53" x2="225.53" y1="511.7" y2="514.3" stroke="#333" stroke-width="0.8"/>
<text transform="translate(229.22,520.7) rotate(-45)" font-size="7.6" fill="#303030" text-anchor="end" stroke="#303030" stroke-width="0.18">Normal</text>
<line x1="192.5" x2="192.5" y1="456.5" y2="460.5" stroke="#333" stroke-width="0.9"/><rect x="186.04" y="439.4" width="12.47" height="17.1" fill="#00B0F0" stroke="#333" stroke-width="0.9"/><line x1="186.04" x2="198.51" y1="442.7" y2="442.7" stroke="#333" stroke-width="1.6"/><circle cx="192.28" cy="410" r="1.05" fill="#333"/><circle cx="192.28" cy="484.3" r="1.05" fill="#333"/>
<line x1="208.5" x2="208.5" y1="425.4" y2="428.6" stroke="#333" stroke-width="0.9"/><line x1="208.5" x2="208.5" y1="442.2" y2="454" stroke="#333" stroke-width="0.9"/><rect x="202.67" y="428.6" width="12.47" height="13.6" fill="#F81C9C" stroke="#333" stroke-width="0.9"/><line x1="202.67" x2="215.13" y1="439" y2="439" stroke="#333" stroke-width="1.6"/><circle cx="208.9" cy="400.5" r="1.05" fill="#333"/>
<line x1="225.5" x2="225.5" y1="447.2" y2="461.3" stroke="#333" stroke-width="0.9"/><line x1="225.5" x2="225.5" y1="478.4" y2="486" stroke="#333" stroke-width="0.9"/><rect x="219.29" y="461.3" width="12.47" height="17.1" fill="#04DA9A" stroke="#333" stroke-width="0.9"/><line x1="219.29" x2="231.76" y1="465.3" y2="465.3" stroke="#333" stroke-width="1.6"/><circle cx="225.53" cy="504.9" r="1.05" fill="#333"/>
<path d="M192.5 370.9V365.5H208.5V370.9" fill="none" stroke="#1A1A1A" stroke-width="0.9"/>
<text x="200.5" y="370.9" font-size="4.7" fill="#222" text-anchor="middle" stroke="none">NS.</text>
<path d="M192.5 383.1V377.8H225.5V383.1" fill="none" stroke="#1A1A1A" stroke-width="0.9"/>
<text x="209" y="383.2" font-size="4.7" fill="#222" text-anchor="middle" stroke="none">NS.</text>
<path d="M208.5 395.5V390.1H225.5V395.5" fill="none" stroke="#1A1A1A" stroke-width="0.9"/>
<text x="217" y="395.5" font-size="4.7" fill="#222" text-anchor="middle" stroke="none">***</text>
<rect x="251.4" y="342.8" width="53.2" height="14.9" fill="#D9D9D9"/>
<text x="278" y="352.6" font-size="7.6" fill="#1A1A1A" text-anchor="middle" stroke="#1A1A1A" stroke-width="0.18">Necrosis</text>
<rect x="251.4" y="357.7" width="53.2" height="154" fill="#EBEBEB"/>
<line x1="251.4" x2="304.6" y1="472.15" y2="472.15" stroke="#fff" stroke-width="0.45"/><line x1="251.4" x2="304.6" y1="421.85" y2="421.85" stroke="#fff" stroke-width="0.45"/><line x1="251.4" x2="304.6" y1="371.55" y2="371.55" stroke="#fff" stroke-width="0.45"/><line x1="251.4" x2="304.6" y1="396.7" y2="396.7" stroke="#fff" stroke-width="0.8"/><line x1="251.4" x2="304.6" y1="447" y2="447" stroke="#fff" stroke-width="0.8"/><line x1="251.4" x2="304.6" y1="497.3" y2="497.3" stroke="#fff" stroke-width="0.8"/><line x1="261.38" x2="261.38" y1="357.7" y2="511.7" stroke="#fff" stroke-width="0.8"/><line x1="278" x2="278" y1="357.7" y2="511.7" stroke="#fff" stroke-width="0.8"/><line x1="294.62" x2="294.62" y1="357.7" y2="511.7" stroke="#fff" stroke-width="0.8"/>
<line x1="248.8" x2="251.4" y1="396.7" y2="396.7" stroke="#333" stroke-width="0.8"/>
<text x="247" y="396.7" dy="0.35em" font-size="7.6" fill="#303030" text-anchor="end" stroke="#303030" stroke-width="0.18">2</text>
<line x1="248.8" x2="251.4" y1="447" y2="447" stroke="#333" stroke-width="0.8"/>
<text x="247" y="447" dy="0.35em" font-size="7.6" fill="#303030" text-anchor="end" stroke="#303030" stroke-width="0.18">0</text>
<line x1="248.8" x2="251.4" y1="497.3" y2="497.3" stroke="#333" stroke-width="0.8"/>
<text x="247" y="497.3" dy="0.35em" font-size="7.6" fill="#303030" text-anchor="end" stroke="#303030" stroke-width="0.18">-2</text>
<line x1="261.38" x2="261.38" y1="511.7" y2="514.3" stroke="#333" stroke-width="0.8"/>
<text transform="translate(265.07,520.7) rotate(-45)" font-size="7.6" fill="#303030" text-anchor="end" stroke="#303030" stroke-width="0.18">ARVC-LV</text>
<line x1="278" x2="278" y1="511.7" y2="514.3" stroke="#333" stroke-width="0.8"/>
<text transform="translate(281.7,520.7) rotate(-45)" font-size="7.6" fill="#303030" text-anchor="end" stroke="#303030" stroke-width="0.18">ARVC-RV</text>
<line x1="294.62" x2="294.62" y1="511.7" y2="514.3" stroke="#333" stroke-width="0.8"/>
<text transform="translate(298.32,520.7) rotate(-45)" font-size="7.6" fill="#303030" text-anchor="end" stroke="#303030" stroke-width="0.18">Normal</text>
<line x1="261.5" x2="261.5" y1="422.6" y2="439" stroke="#333" stroke-width="0.9"/><line x1="261.5" x2="261.5" y1="462" y2="470.4" stroke="#333" stroke-width="0.9"/><rect x="255.14" y="439" width="12.47" height="23" fill="#00B0F0" stroke="#333" stroke-width="0.9"/><line x1="255.14" x2="267.61" y1="460.3" y2="460.3" stroke="#333" stroke-width="1.6"/>
<line x1="278.5" x2="278.5" y1="401.3" y2="422.2" stroke="#333" stroke-width="0.9"/><line x1="278.5" x2="278.5" y1="446.4" y2="469.6" stroke="#333" stroke-width="0.9"/><rect x="271.77" y="422.2" width="12.47" height="24.2" fill="#F81C9C" stroke="#333" stroke-width="0.9"/><line x1="271.77" x2="284.23" y1="438" y2="438" stroke="#333" stroke-width="1.6"/>
<line x1="294.5" x2="294.5" y1="401.8" y2="436.5" stroke="#333" stroke-width="0.9"/><line x1="294.5" x2="294.5" y1="469" y2="504.9" stroke="#333" stroke-width="0.9"/><rect x="288.39" y="436.5" width="12.47" height="32.5" fill="#04DA9A" stroke="#333" stroke-width="0.9"/><line x1="288.39" x2="300.86" y1="458.8" y2="458.8" stroke="#333" stroke-width="1.6"/>
<path d="M261.5 370.9V365.5H278.5V370.9" fill="none" stroke="#1A1A1A" stroke-width="0.9"/>
<text x="270" y="370.9" font-size="4.7" fill="#222" text-anchor="middle" stroke="none">NS.</text>
<path d="M261.5 383.1V377.8H294.5V383.1" fill="none" stroke="#1A1A1A" stroke-width="0.9"/>
<text x="278" y="383.2" font-size="4.7" fill="#222" text-anchor="middle" stroke="none">NS.</text>
<path d="M278.5 395.5V390.1H294.5V395.5" fill="none" stroke="#1A1A1A" stroke-width="0.9"/>
<text x="286.5" y="395.5" font-size="4.7" fill="#222" text-anchor="middle" stroke="none">NS.</text>
<rect x="318.9" y="342.8" width="53.2" height="14.9" fill="#D9D9D9"/>
<text x="345.5" y="352.6" font-size="7.6" fill="#1A1A1A" text-anchor="middle" stroke="#1A1A1A" stroke-width="0.18">Ferroptosis</text>
<rect x="318.9" y="357.7" width="53.2" height="154" fill="#EBEBEB"/>
<line x1="318.9" x2="372.1" y1="495.6" y2="495.6" stroke="#fff" stroke-width="0.45"/><line x1="318.9" x2="372.1" y1="453.2" y2="453.2" stroke="#fff" stroke-width="0.45"/><line x1="318.9" x2="372.1" y1="410.8" y2="410.8" stroke="#fff" stroke-width="0.45"/><line x1="318.9" x2="372.1" y1="368.4" y2="368.4" stroke="#fff" stroke-width="0.45"/><line x1="318.9" x2="372.1" y1="389.6" y2="389.6" stroke="#fff" stroke-width="0.8"/><line x1="318.9" x2="372.1" y1="432" y2="432" stroke="#fff" stroke-width="0.8"/><line x1="318.9" x2="372.1" y1="474.4" y2="474.4" stroke="#fff" stroke-width="0.8"/><line x1="328.88" x2="328.88" y1="357.7" y2="511.7" stroke="#fff" stroke-width="0.8"/><line x1="345.5" x2="345.5" y1="357.7" y2="511.7" stroke="#fff" stroke-width="0.8"/><line x1="362.12" x2="362.12" y1="357.7" y2="511.7" stroke="#fff" stroke-width="0.8"/>
<line x1="316.3" x2="318.9" y1="389.6" y2="389.6" stroke="#333" stroke-width="0.8"/>
<text x="314.5" y="389.6" dy="0.35em" font-size="7.6" fill="#303030" text-anchor="end" stroke="#303030" stroke-width="0.18">4</text>
<line x1="316.3" x2="318.9" y1="432" y2="432" stroke="#333" stroke-width="0.8"/>
<text x="314.5" y="432" dy="0.35em" font-size="7.6" fill="#303030" text-anchor="end" stroke="#303030" stroke-width="0.18">2</text>
<line x1="316.3" x2="318.9" y1="474.4" y2="474.4" stroke="#333" stroke-width="0.8"/>
<text x="314.5" y="474.4" dy="0.35em" font-size="7.6" fill="#303030" text-anchor="end" stroke="#303030" stroke-width="0.18">0</text>
<line x1="328.88" x2="328.88" y1="511.7" y2="514.3" stroke="#333" stroke-width="0.8"/>
<text transform="translate(332.57,520.7) rotate(-45)" font-size="7.6" fill="#303030" text-anchor="end" stroke="#303030" stroke-width="0.18">ARVC-LV</text>
<line x1="345.5" x2="345.5" y1="511.7" y2="514.3" stroke="#333" stroke-width="0.8"/>
<text transform="translate(349.2,520.7) rotate(-45)" font-size="7.6" fill="#303030" text-anchor="end" stroke="#303030" stroke-width="0.18">ARVC-RV</text>
<line x1="362.12" x2="362.12" y1="511.7" y2="514.3" stroke="#333" stroke-width="0.8"/>
<text transform="translate(365.82,520.7) rotate(-45)" font-size="7.6" fill="#303030" text-anchor="end" stroke="#303030" stroke-width="0.18">Normal</text>
<line x1="328.5" x2="328.5" y1="479.5" y2="479.7" stroke="#333" stroke-width="0.9"/><rect x="322.64" y="471.2" width="12.47" height="8.3" fill="#00B0F0" stroke="#333" stroke-width="0.9"/><line x1="322.64" x2="335.11" y1="473.3" y2="473.3" stroke="#333" stroke-width="1.6"/><circle cx="328.88" cy="501.3" r="1.05" fill="#333"/>
<line x1="345.5" x2="345.5" y1="484.5" y2="504.9" stroke="#333" stroke-width="0.9"/><rect x="339.27" y="470.4" width="12.47" height="14.1" fill="#F81C9C" stroke="#333" stroke-width="0.9"/><line x1="339.27" x2="351.73" y1="484.1" y2="484.1" stroke="#333" stroke-width="1.6"/><circle cx="345.5" cy="400.5" r="1.05" fill="#333"/><circle cx="345.5" cy="445.7" r="1.05" fill="#333"/>
<line x1="362.5" x2="362.5" y1="471.2" y2="475.5" stroke="#333" stroke-width="0.9"/><line x1="362.5" x2="362.5" y1="482.7" y2="483.5" stroke="#333" stroke-width="0.9"/><rect x="355.89" y="475.5" width="12.47" height="7.2" fill="#04DA9A" stroke="#333" stroke-width="0.9"/><line x1="355.89" x2="368.36" y1="479.5" y2="479.5" stroke="#333" stroke-width="1.6"/><circle cx="362.12" cy="427.3" r="1.05" fill="#333"/>
<path d="M328.5 370.9V365.5H345.5V370.9" fill="none" stroke="#1A1A1A" stroke-width="0.9"/>
<text x="337" y="370.9" font-size="4.7" fill="#222" text-anchor="middle" stroke="none">NS.</text>
<path d="M328.5 383.1V377.8H362.5V383.1" fill="none" stroke="#1A1A1A" stroke-width="0.9"/>
<text x="345.5" y="383.2" font-size="4.7" fill="#222" text-anchor="middle" stroke="none">NS.</text>
<path d="M345.5 395.5V390.1H362.5V395.5" fill="none" stroke="#1A1A1A" stroke-width="0.9"/>
<text x="354" y="395.5" font-size="4.7" fill="#222" text-anchor="middle" stroke="none">NS.</text>
<rect x="388" y="342.8" width="53.2" height="14.9" fill="#D9D9D9"/>
<text x="414.6" y="352.6" font-size="7.6" fill="#1A1A1A" text-anchor="middle" stroke="#1A1A1A" stroke-width="0.18">Pyroptosis</text>
<rect x="388" y="357.7" width="53.2" height="154" fill="#EBEBEB"/>
<line x1="388" x2="441.2" y1="489.65" y2="489.65" stroke="#fff" stroke-width="0.45"/><line x1="388" x2="441.2" y1="461.35" y2="461.35" stroke="#fff" stroke-width="0.45"/><line x1="388" x2="441.2" y1="433.05" y2="433.05" stroke="#fff" stroke-width="0.45"/><line x1="388" x2="441.2" y1="404.75" y2="404.75" stroke="#fff" stroke-width="0.45"/><line x1="388" x2="441.2" y1="376.45" y2="376.45" stroke="#fff" stroke-width="0.45"/><line x1="388" x2="441.2" y1="362.3" y2="362.3" stroke="#fff" stroke-width="0.8"/><line x1="388" x2="441.2" y1="390.6" y2="390.6" stroke="#fff" stroke-width="0.8"/><line x1="388" x2="441.2" y1="418.9" y2="418.9" stroke="#fff" stroke-width="0.8"/><line x1="388" x2="441.2" y1="447.2" y2="447.2" stroke="#fff" stroke-width="0.8"/><line x1="388" x2="441.2" y1="475.5" y2="475.5" stroke="#fff" stroke-width="0.8"/><line x1="388" x2="441.2" y1="503.8" y2="503.8" stroke="#fff" stroke-width="0.8"/><line x1="397.98" x2="397.98" y1="357.7" y2="511.7" stroke="#fff" stroke-width="0.8"/><line x1="414.6" x2="414.6" y1="357.7" y2="511.7" stroke="#fff" stroke-width="0.8"/><line x1="431.23" x2="431.23" y1="357.7" y2="511.7" stroke="#fff" stroke-width="0.8"/>
<line x1="385.4" x2="388" y1="362.3" y2="362.3" stroke="#333" stroke-width="0.8"/>
<text x="383.6" y="362.3" dy="0.35em" font-size="7.6" fill="#303030" text-anchor="end" stroke="#303030" stroke-width="0.18">3</text>
<line x1="385.4" x2="388" y1="390.6" y2="390.6" stroke="#333" stroke-width="0.8"/>
<text x="383.6" y="390.6" dy="0.35em" font-size="7.6" fill="#303030" text-anchor="end" stroke="#303030" stroke-width="0.18">2</text>
<line x1="385.4" x2="388" y1="418.9" y2="418.9" stroke="#333" stroke-width="0.8"/>
<text x="383.6" y="418.9" dy="0.35em" font-size="7.6" fill="#303030" text-anchor="end" stroke="#303030" stroke-width="0.18">1</text>
<line x1="385.4" x2="388" y1="447.2" y2="447.2" stroke="#333" stroke-width="0.8"/>
<text x="383.6" y="447.2" dy="0.35em" font-size="7.6" fill="#303030" text-anchor="end" stroke="#303030" stroke-width="0.18">0</text>
<line x1="385.4" x2="388" y1="475.5" y2="475.5" stroke="#333" stroke-width="0.8"/>
<text x="383.6" y="475.5" dy="0.35em" font-size="7.6" fill="#303030" text-anchor="end" stroke="#303030" stroke-width="0.18">-1</text>
<line x1="385.4" x2="388" y1="503.8" y2="503.8" stroke="#333" stroke-width="0.8"/>
<text x="383.6" y="503.8" dy="0.35em" font-size="7.6" fill="#303030" text-anchor="end" stroke="#303030" stroke-width="0.18">-2</text>
<line x1="397.98" x2="397.98" y1="511.7" y2="514.3" stroke="#333" stroke-width="0.8"/>
<text transform="translate(401.68,520.7) rotate(-45)" font-size="7.6" fill="#303030" text-anchor="end" stroke="#303030" stroke-width="0.18">ARVC-LV</text>
<line x1="414.6" x2="414.6" y1="511.7" y2="514.3" stroke="#333" stroke-width="0.8"/>
<text transform="translate(418.3,520.7) rotate(-45)" font-size="7.6" fill="#303030" text-anchor="end" stroke="#303030" stroke-width="0.18">ARVC-RV</text>
<line x1="431.23" x2="431.23" y1="511.7" y2="514.3" stroke="#333" stroke-width="0.8"/>
<text transform="translate(434.93,520.7) rotate(-45)" font-size="7.6" fill="#303030" text-anchor="end" stroke="#303030" stroke-width="0.18">Normal</text>
<line x1="397.5" x2="397.5" y1="428.2" y2="434.2" stroke="#333" stroke-width="0.9"/><line x1="397.5" x2="397.5" y1="447.5" y2="450.7" stroke="#333" stroke-width="0.9"/><rect x="391.74" y="434.2" width="12.47" height="13.3" fill="#00B0F0" stroke="#333" stroke-width="0.9"/><line x1="391.74" x2="404.21" y1="439" y2="439" stroke="#333" stroke-width="1.6"/>
<line x1="414.5" x2="414.5" y1="401.3" y2="420.2" stroke="#333" stroke-width="0.9"/><line x1="414.5" x2="414.5" y1="433.6" y2="444.8" stroke="#333" stroke-width="0.9"/><rect x="408.37" y="420.2" width="12.47" height="13.4" fill="#F81C9C" stroke="#333" stroke-width="0.9"/><line x1="408.37" x2="420.83" y1="428.5" y2="428.5" stroke="#333" stroke-width="1.6"/>
<line x1="431.5" x2="431.5" y1="432.9" y2="443.4" stroke="#333" stroke-width="0.9"/><line x1="431.5" x2="431.5" y1="495.5" y2="504.9" stroke="#333" stroke-width="0.9"/><rect x="424.99" y="443.4" width="12.47" height="52.1" fill="#04DA9A" stroke="#333" stroke-width="0.9"/><line x1="424.99" x2="437.46" y1="470.4" y2="470.4" stroke="#333" stroke-width="1.6"/>
<path d="M397.5 370.9V365.5H414.5V370.9" fill="none" stroke="#1A1A1A" stroke-width="0.9"/>
<text x="406" y="370.9" font-size="4.7" fill="#222" text-anchor="middle" stroke="none">*</text>
<path d="M397.5 383.1V377.8H431.5V383.1" fill="none" stroke="#1A1A1A" stroke-width="0.9"/>
<text x="414.5" y="383.2" font-size="4.7" fill="#222" text-anchor="middle" stroke="none">**</text>
<path d="M414.5 395.5V390.1H431.5V395.5" fill="none" stroke="#1A1A1A" stroke-width="0.9"/>
<text x="423" y="395.5" font-size="4.7" fill="#222" text-anchor="middle" stroke="none">***</text>
<rect x="457.9" y="342.8" width="53.2" height="14.9" fill="#D9D9D9"/>
<text x="484.5" y="352.6" font-size="7.6" fill="#1A1A1A" text-anchor="middle" stroke="#1A1A1A" stroke-width="0.18">ICD</text>
<rect x="457.9" y="357.7" width="53.2" height="154" fill="#EBEBEB"/>
<line x1="457.9" x2="511.1" y1="484.9" y2="484.9" stroke="#fff" stroke-width="0.45"/><line x1="457.9" x2="511.1" y1="435.7" y2="435.7" stroke="#fff" stroke-width="0.45"/><line x1="457.9" x2="511.1" y1="386.5" y2="386.5" stroke="#fff" stroke-width="0.45"/><line x1="457.9" x2="511.1" y1="361.9" y2="361.9" stroke="#fff" stroke-width="0.8"/><line x1="457.9" x2="511.1" y1="411.1" y2="411.1" stroke="#fff" stroke-width="0.8"/><line x1="457.9" x2="511.1" y1="460.3" y2="460.3" stroke="#fff" stroke-width="0.8"/><line x1="457.9" x2="511.1" y1="509.5" y2="509.5" stroke="#fff" stroke-width="0.8"/><line x1="467.88" x2="467.88" y1="357.7" y2="511.7" stroke="#fff" stroke-width="0.8"/><line x1="484.5" x2="484.5" y1="357.7" y2="511.7" stroke="#fff" stroke-width="0.8"/><line x1="501.12" x2="501.12" y1="357.7" y2="511.7" stroke="#fff" stroke-width="0.8"/>
<line x1="455.3" x2="457.9" y1="361.9" y2="361.9" stroke="#333" stroke-width="0.8"/>
<text x="453.5" y="361.9" dy="0.35em" font-size="7.6" fill="#303030" text-anchor="end" stroke="#303030" stroke-width="0.18">4</text>
<line x1="455.3" x2="457.9" y1="411.1" y2="411.1" stroke="#333" stroke-width="0.8"/>
<text x="453.5" y="411.1" dy="0.35em" font-size="7.6" fill="#303030" text-anchor="end" stroke="#303030" stroke-width="0.18">2</text>
<line x1="455.3" x2="457.9" y1="460.3" y2="460.3" stroke="#333" stroke-width="0.8"/>
<text x="453.5" y="460.3" dy="0.35em" font-size="7.6" fill="#303030" text-anchor="end" stroke="#303030" stroke-width="0.18">0</text>
<line x1="455.3" x2="457.9" y1="509.5" y2="509.5" stroke="#333" stroke-width="0.8"/>
<text x="453.5" y="509.5" dy="0.35em" font-size="7.6" fill="#303030" text-anchor="end" stroke="#303030" stroke-width="0.18">-2</text>
<line x1="467.88" x2="467.88" y1="511.7" y2="514.3" stroke="#333" stroke-width="0.8"/>
<text transform="translate(471.57,520.7) rotate(-45)" font-size="7.6" fill="#303030" text-anchor="end" stroke="#303030" stroke-width="0.18">ARVC-LV</text>
<line x1="484.5" x2="484.5" y1="511.7" y2="514.3" stroke="#333" stroke-width="0.8"/>
<text transform="translate(488.2,520.7) rotate(-45)" font-size="7.6" fill="#303030" text-anchor="end" stroke="#303030" stroke-width="0.18">ARVC-RV</text>
<line x1="501.12" x2="501.12" y1="511.7" y2="514.3" stroke="#333" stroke-width="0.8"/>
<text transform="translate(504.82,520.7) rotate(-45)" font-size="7.6" fill="#303030" text-anchor="end" stroke="#303030" stroke-width="0.18">Normal</text>
<line x1="467.5" x2="467.5" y1="441.6" y2="459.5" stroke="#333" stroke-width="0.9"/><line x1="467.5" x2="467.5" y1="475.8" y2="483.8" stroke="#333" stroke-width="0.9"/><rect x="461.64" y="459.5" width="12.47" height="16.3" fill="#00B0F0" stroke="#333" stroke-width="0.9"/><line x1="461.64" x2="474.11" y1="464.5" y2="464.5" stroke="#333" stroke-width="1.6"/>
<line x1="484.5" x2="484.5" y1="426.6" y2="432.2" stroke="#333" stroke-width="0.9"/><line x1="484.5" x2="484.5" y1="449.2" y2="460.5" stroke="#333" stroke-width="0.9"/><rect x="478.27" y="432.2" width="12.47" height="17" fill="#F81C9C" stroke="#333" stroke-width="0.9"/><line x1="478.27" x2="490.73" y1="436.5" y2="436.5" stroke="#333" stroke-width="1.6"/><circle cx="484.5" cy="400.5" r="1.05" fill="#333"/>
<line x1="501.5" x2="501.5" y1="448.2" y2="453" stroke="#333" stroke-width="0.9"/><line x1="501.5" x2="501.5" y1="490.8" y2="504.9" stroke="#333" stroke-width="0.9"/><rect x="494.89" y="453" width="12.47" height="37.8" fill="#04DA9A" stroke="#333" stroke-width="0.9"/><line x1="494.89" x2="507.36" y1="481.6" y2="481.6" stroke="#333" stroke-width="1.6"/>
<path d="M467.5 370.9V365.5H484.5V370.9" fill="none" stroke="#1A1A1A" stroke-width="0.9"/>
<text x="476" y="370.9" font-size="4.7" fill="#222" text-anchor="middle" stroke="none">**</text>
<path d="M467.5 383.1V377.8H501.5V383.1" fill="none" stroke="#1A1A1A" stroke-width="0.9"/>
<text x="484.5" y="383.2" font-size="4.7" fill="#222" text-anchor="middle" stroke="none">NS.</text>
<path d="M484.5 395.5V390.1H501.5V395.5" fill="none" stroke="#1A1A1A" stroke-width="0.9"/>
<text x="493" y="395.5" font-size="4.7" fill="#222" text-anchor="middle" stroke="none">***</text>
<text transform="translate(30.4,235) rotate(-90)" font-size="10.35" fill="#000" text-anchor="middle" stroke="#000" stroke-width="0.18">Standardized ES of cell death</text>
<text transform="translate(27.4,435) rotate(-90)" font-size="10.35" fill="#000" text-anchor="middle" stroke="#000" stroke-width="0.18">Standardized ES of cell death</text>
<text transform="translate(2.5,156.6) scale(0.885,1)" font-size="12.7" font-weight="bold" fill="#000" stroke="#000" stroke-width="0.18">B</text>
<text transform="translate(2.6,350.6) scale(0.9,1)" font-size="12.7" font-weight="bold" fill="#000" stroke="#000" stroke-width="0.18">C</text>
</svg></body></html>
